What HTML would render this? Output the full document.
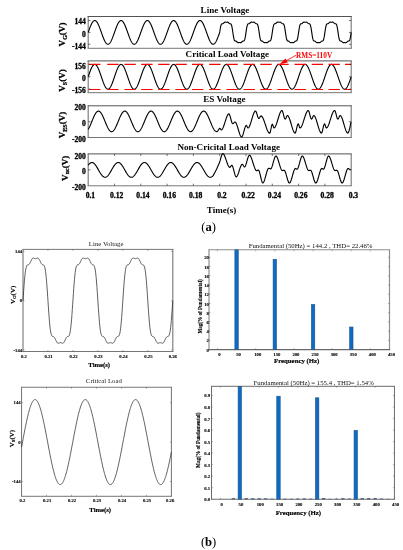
<!DOCTYPE html>
<html><head><meta charset="utf-8"><title>Figure</title>
<style>
html,body{margin:0;padding:0;background:#fff;}
body{width:403px;height:550px;overflow:hidden;font-family:'Liberation Serif', serif;}
svg{display:block;font-family:"Liberation Serif",serif;}
</style></head><body>
<svg width="403" height="550" viewBox="0 0 403 550">
<rect width="403" height="550" fill="#fff"/>
<text x="225.00" y="13.10" font-size="9.1" font-weight="bold" text-anchor="middle" fill="#000">Line Voltage</text>
<text x="227.30" y="57.30" font-size="9.1" font-weight="bold" text-anchor="middle" fill="#000">Critical Load Voltage</text>
<text x="224.40" y="101.80" font-size="9.1" font-weight="bold" text-anchor="middle" fill="#000">ES Voltage</text>
<text x="228.70" y="150.40" font-size="9.1" font-weight="bold" text-anchor="middle" fill="#000">Non-Cricital Load Voltage</text>
<path d="M88.20 16.50V48.30M351.20 16.50V48.30" stroke="#808080" stroke-width="1.2" fill="none"/>
<path d="M87.60 16.50H351.80" stroke="#4a4a4a" stroke-width="0.95" fill="none"/>
<path d="M87.60 48.30H351.80" stroke="#707070" stroke-width="0.95" fill="none"/>
<path d="M88.20 60.90V92.70M351.20 60.90V92.70" stroke="#808080" stroke-width="1.2" fill="none"/>
<path d="M87.60 60.90H351.80" stroke="#4a4a4a" stroke-width="0.95" fill="none"/>
<path d="M87.60 92.70H351.80" stroke="#707070" stroke-width="0.95" fill="none"/>
<path d="M88.20 105.80V137.50M351.20 105.80V137.50" stroke="#808080" stroke-width="1.2" fill="none"/>
<path d="M87.60 105.80H351.80" stroke="#4a4a4a" stroke-width="0.95" fill="none"/>
<path d="M87.60 137.50H351.80" stroke="#707070" stroke-width="0.95" fill="none"/>
<path d="M88.20 153.90V185.80M351.20 153.90V185.80" stroke="#808080" stroke-width="1.2" fill="none"/>
<path d="M87.60 153.90H351.80" stroke="#4a4a4a" stroke-width="0.95" fill="none"/>
<path d="M87.60 185.80H351.80" stroke="#707070" stroke-width="0.95" fill="none"/>
<path d="M114.50 185.80v-2.1M114.50 153.90v2.1" stroke="#3a3a3a" stroke-width="0.7"/>
<path d="M140.80 185.80v-2.1M140.80 153.90v2.1" stroke="#3a3a3a" stroke-width="0.7"/>
<path d="M167.10 185.80v-2.1M167.10 153.90v2.1" stroke="#3a3a3a" stroke-width="0.7"/>
<path d="M193.40 185.80v-2.1M193.40 153.90v2.1" stroke="#3a3a3a" stroke-width="0.7"/>
<path d="M219.70 185.80v-2.1M219.70 153.90v2.1" stroke="#3a3a3a" stroke-width="0.7"/>
<path d="M246.00 185.80v-2.1M246.00 153.90v2.1" stroke="#3a3a3a" stroke-width="0.7"/>
<path d="M272.30 185.80v-2.1M272.30 153.90v2.1" stroke="#3a3a3a" stroke-width="0.7"/>
<path d="M298.60 185.80v-2.1M298.60 153.90v2.1" stroke="#3a3a3a" stroke-width="0.7"/>
<path d="M324.90 185.80v-2.1M324.90 153.90v2.1" stroke="#3a3a3a" stroke-width="0.7"/>
<polyline points="88.20,32.40 88.49,31.57 88.79,30.75 89.08,29.93 89.37,29.13 89.66,28.34 89.96,27.57 90.25,26.82 90.54,26.11 90.83,25.42 91.13,24.77 91.42,24.15 91.71,23.58 92.00,23.04 92.30,22.56 92.59,22.12 92.88,21.73 93.17,21.39 93.47,21.11 93.76,20.88 94.05,20.71 94.34,20.60 94.64,20.54 94.93,20.54 95.22,20.60 95.51,20.72 95.81,20.89 96.10,21.13 96.39,21.41 96.68,21.75 96.98,22.14 97.27,22.58 97.56,23.07 97.85,23.60 98.15,24.18 98.44,24.80 98.73,25.45 99.02,26.14 99.32,26.86 99.61,27.61 99.90,28.38 100.19,29.17 100.49,29.97 100.78,30.79 101.07,31.61 101.36,32.44 101.66,33.27 101.95,34.09 102.24,34.91 102.53,35.71 102.83,36.50 103.12,37.27 103.41,38.01 103.71,38.73 104.00,39.41 104.29,40.06 104.58,40.68 104.88,41.25 105.17,41.78 105.46,42.27 105.75,42.70 106.05,43.09 106.34,43.42 106.63,43.70 106.92,43.92 107.22,44.09 107.51,44.20 107.80,44.26 108.09,44.25 108.39,44.19 108.68,44.07 108.97,43.89 109.26,43.66 109.56,43.37 109.85,43.03 110.14,42.64 110.43,42.20 110.73,41.70 111.02,41.17 111.31,40.59 111.60,39.97 111.90,39.31 112.19,38.62 112.48,37.90 112.77,37.15 113.07,36.38 113.36,35.59 113.65,34.79 113.94,33.97 114.24,33.15 114.53,32.32 114.82,31.49 115.11,30.67 115.41,29.85 115.70,29.05 115.99,28.26 116.28,27.49 116.58,26.75 116.87,26.04 117.16,25.35 117.45,24.70 117.75,24.09 118.04,23.52 118.33,22.99 118.62,22.51 118.92,22.08 119.21,21.69 119.50,21.36 119.80,21.09 120.09,20.87 120.38,20.70 120.67,20.59 120.97,20.54 121.26,20.55 121.55,20.61 121.84,20.74 122.14,20.92 122.43,21.15 122.72,21.44 123.01,21.79 123.31,22.18 123.60,22.63 123.89,23.12 124.18,23.66 124.48,24.24 124.77,24.86 125.06,25.52 125.35,26.21 125.65,26.93 125.94,27.68 126.23,28.46 126.52,29.25 126.82,30.05 127.11,30.87 127.40,31.70 127.69,32.52 127.99,33.35 128.28,34.18 128.57,34.99 128.86,35.79 129.16,36.58 129.45,37.34 129.74,38.08 130.03,38.80 130.33,39.48 130.62,40.13 130.91,40.74 131.20,41.31 131.50,41.83 131.79,42.31 132.08,42.74 132.37,43.12 132.67,43.45 132.96,43.73 133.25,43.94 133.54,44.11 133.84,44.21 134.13,44.26 134.42,44.25 134.72,44.18 135.01,44.06 135.30,43.87 135.59,43.64 135.89,43.34 136.18,43.00 136.47,42.60 136.76,42.15 137.06,41.65 137.35,41.11 137.64,40.53 137.93,39.90 138.23,39.24 138.52,38.55 138.81,37.83 139.10,37.08 139.40,36.31 139.69,35.51 139.98,34.71 140.27,33.89 140.57,33.06 140.86,32.23 141.15,31.41 141.44,30.58 141.74,29.77 142.03,28.97 142.32,28.18 142.61,27.42 142.91,26.68 143.20,25.97 143.49,25.29 143.78,24.64 144.08,24.03 144.37,23.47 144.66,22.94 144.95,22.47 145.25,22.04 145.54,21.66 145.83,21.33 146.12,21.06 146.42,20.85 146.71,20.69 147.00,20.58 147.29,20.54 147.59,20.55 147.88,20.62 148.17,20.75 148.46,20.94 148.76,21.18 149.05,21.47 149.34,21.82 149.63,22.22 149.93,22.67 150.22,23.17 150.51,23.72 150.81,24.30 151.10,24.93 151.39,25.59 151.68,26.28 151.98,27.01 152.27,27.76 152.56,28.53 152.85,29.33 153.15,30.13 153.44,30.95 153.73,31.78 154.02,32.61 154.32,33.44 154.61,34.26 154.90,35.07 155.19,35.87 155.49,36.66 155.78,37.42 156.07,38.16 156.36,38.87 156.66,39.55 156.95,40.19 157.24,40.80 157.53,41.36 157.83,41.88 158.12,42.36 158.41,42.78 158.70,43.16 159.00,43.48 159.29,43.75 159.58,43.96 159.87,44.12 160.17,44.22 160.46,44.26 160.75,44.25 161.04,44.17 161.34,44.04 161.63,43.85 161.92,43.61 162.21,43.31 162.51,42.96 162.80,42.55 163.09,42.10 163.38,41.60 163.68,41.06 163.97,40.47 164.26,39.84 164.55,39.18 164.85,38.48 165.14,37.75 165.43,37.00 165.73,36.23 166.02,35.43 166.31,34.63 166.60,33.81 166.90,32.98 167.19,32.15 167.48,31.32 167.77,30.50 168.07,29.69 168.36,28.89 168.65,28.11 168.94,27.34 169.24,26.61 169.53,25.90 169.82,25.22 170.11,24.58 170.41,23.97 170.70,23.41 170.99,22.89 171.28,22.42 171.58,22.00 171.87,21.62 172.16,21.30 172.45,21.04 172.75,20.83 173.04,20.67 173.33,20.58 173.62,20.54 173.92,20.56 174.21,20.63 174.50,20.77 174.79,20.96 175.09,21.20 175.38,21.51 175.67,21.86 175.96,22.27 176.26,22.72 176.55,23.23 176.84,23.77 177.13,24.36 177.43,24.99 177.72,25.66 178.01,26.36 178.30,27.08 178.60,27.84 178.89,28.61 179.18,29.41 179.47,30.22 179.77,31.03 180.06,31.86 180.35,32.69 180.64,33.52 180.94,34.34 181.23,35.15 181.52,35.95 181.82,36.73 182.11,37.49 182.40,38.23 182.69,38.94 182.99,39.61 183.28,40.25 183.57,40.85 183.86,41.41 184.16,41.93 184.45,42.40 184.74,42.82 185.03,43.19 185.33,43.51 185.62,43.77 185.91,43.98 186.20,44.13 186.50,44.23 186.79,44.26 187.08,44.24 187.37,44.16 187.67,44.02 187.96,43.83 188.25,43.58 188.54,43.28 188.84,42.92 189.13,42.51 189.42,42.05 189.71,41.55 190.01,41.00 190.30,40.41 190.59,39.78 190.88,39.11 191.18,38.41 191.47,37.68 191.76,36.93 192.05,36.15 192.35,35.35 192.64,34.54 192.93,33.72 193.22,32.90 193.52,32.07 193.81,31.24 194.10,30.42 194.39,29.61 194.69,28.81 194.98,28.03 195.27,27.27 195.56,26.53 195.86,25.83 196.15,25.15 196.44,24.52 196.74,23.92 197.03,23.36 197.32,22.84 197.61,22.38 197.91,21.96 198.20,21.59 198.49,21.28 198.78,21.01 199.08,20.81 199.37,20.66 199.66,20.57 199.95,20.54 200.25,20.56 200.54,20.64 200.83,20.78 201.12,20.98 201.42,21.23 201.71,21.54 202.00,21.90 202.29,22.31 202.59,22.77 202.88,23.28 203.17,23.83 203.46,24.42 203.76,25.06 204.05,25.73 204.34,26.43 204.63,27.16 204.93,27.91 205.22,28.69 205.51,29.49 205.80,30.30 206.10,31.12 206.39,31.94 206.68,32.77 206.97,33.60 207.27,34.42 207.56,35.23 207.85,36.03 208.14,36.81 208.44,37.57 208.73,38.30 209.02,39.01 209.31,39.68 209.61,40.31 209.90,40.91 210.19,41.47 210.48,41.98 210.78,42.45 211.07,42.86 211.36,43.23 211.65,43.54 211.95,43.80 212.24,44.00 212.53,44.14 212.83,44.23 213.12,44.26 213.41,44.24 213.70,44.15 214.00,44.01 214.29,43.81 214.58,43.55 214.87,43.24 215.17,42.88 215.46,42.47 215.75,42.00 216.04,41.50 216.34,40.94 216.63,40.35 216.92,39.71 217.21,39.04 217.51,38.34 217.80,37.61 218.09,36.85 218.38,36.07 218.68,35.27 218.97,34.46 219.26,33.64 219.55,32.81 219.85,31.40 220.14,29.46 220.43,27.73 220.72,26.29 221.02,25.21 221.31,24.47 221.60,24.04 221.89,23.84 222.19,23.77 222.48,23.74 222.77,23.68 223.06,23.54 223.36,23.33 223.65,23.05 223.94,22.75 224.23,22.48 224.53,22.28 224.82,22.16 225.11,22.12 225.40,22.14 225.70,22.20 225.99,22.25 226.28,22.27 226.57,22.25 226.87,22.20 227.16,22.14 227.45,22.12 227.75,22.16 228.04,22.28 228.33,22.49 228.62,22.77 228.92,23.06 229.21,23.34 229.50,23.55 229.79,23.68 230.09,23.74 230.38,23.77 230.67,23.85 230.96,24.06 231.26,24.50 231.55,25.25 231.84,26.36 232.13,27.81 232.43,29.56 232.72,31.50 233.01,33.50 233.30,35.43 233.60,37.15 233.89,38.57 234.18,39.64 234.47,40.36 234.77,40.77 235.06,40.97 235.35,41.03 235.64,41.06 235.94,41.12 236.23,41.26 236.52,41.49 236.81,41.77 237.11,42.06 237.40,42.33 237.69,42.53 237.98,42.65 238.28,42.68 238.57,42.65 238.86,42.60 239.15,42.55 239.45,42.53 239.74,42.56 240.03,42.61 240.32,42.66 240.62,42.68 240.91,42.64 241.20,42.51 241.49,42.29 241.79,42.02 242.08,41.72 242.37,41.45 242.66,41.24 242.96,41.11 243.25,41.06 243.54,41.03 243.84,40.95 244.13,40.73 244.42,40.27 244.71,39.50 245.01,38.38 245.30,36.91 245.59,35.15 245.88,33.20 246.18,31.20 246.47,29.28 246.76,27.57 247.05,26.17 247.35,25.12 247.64,24.41 247.93,24.01 248.22,23.83 248.52,23.77 248.81,23.74 249.10,23.67 249.39,23.53 249.69,23.30 249.98,23.02 250.27,22.72 250.56,22.46 250.86,22.26 251.15,22.15 251.44,22.12 251.73,22.15 252.03,22.20 252.32,22.25 252.61,22.27 252.90,22.24 253.20,22.19 253.49,22.14 253.78,22.12 254.07,22.17 254.37,22.30 254.66,22.52 254.95,22.80 255.24,23.09 255.54,23.36 255.83,23.57 256.12,23.69 256.41,23.75 256.71,23.78 257.00,23.86 257.29,24.09 257.58,24.56 257.88,25.35 258.17,26.49 258.46,27.97 258.76,29.74 259.05,31.70 259.34,33.70 259.63,35.61 259.93,37.31 260.22,38.69 260.51,39.73 260.80,40.41 261.10,40.80 261.39,40.98 261.68,41.03 261.97,41.06 262.27,41.14 262.56,41.28 262.85,41.51 263.14,41.79 263.44,42.09 263.73,42.35 264.02,42.55 264.31,42.65 264.61,42.68 264.90,42.65 265.19,42.59 265.48,42.55 265.78,42.53 266.07,42.56 266.36,42.61 266.65,42.67 266.95,42.68 267.24,42.63 267.53,42.49 267.82,42.27 268.12,41.99 268.41,41.69 268.70,41.42 268.99,41.22 269.29,41.10 269.58,41.05 269.87,41.02 270.16,40.93 270.46,40.69 270.75,40.21 271.04,39.41 271.33,38.25 271.63,36.74 271.92,34.96 272.21,33.00 272.50,31.00 272.80,29.10 273.09,27.42 273.38,26.05 273.67,25.03 273.97,24.36 274.26,23.99 274.55,23.82 274.85,23.76 275.14,23.73 275.43,23.66 275.72,23.51 276.02,23.28 276.31,22.99 276.60,22.70 276.89,22.44 277.19,22.25 277.48,22.14 277.77,22.12 278.06,22.15 278.36,22.21 278.65,22.25 278.94,22.27 279.23,22.24 279.53,22.18 279.82,22.13 280.11,22.12 280.40,22.18 280.70,22.32 280.99,22.55 281.28,22.83 281.57,23.12 281.87,23.39 282.16,23.59 282.45,23.70 282.74,23.75 283.04,23.78 283.33,23.87 283.62,24.12 283.91,24.62 284.21,25.44 284.50,26.62 284.79,28.14 285.08,29.93 285.38,31.90 285.67,33.90 285.96,35.79 286.25,37.46 286.55,38.81 286.84,39.81 287.13,40.46 287.42,40.83 287.72,40.99 288.01,41.04 288.30,41.07 288.59,41.15 288.89,41.30 289.18,41.54 289.47,41.82 289.77,42.12 290.06,42.38 290.35,42.56 290.64,42.66 290.94,42.68 291.23,42.64 291.52,42.59 291.81,42.54 292.11,42.53 292.40,42.56 292.69,42.62 292.98,42.67 293.28,42.68 293.57,42.62 293.86,42.47 294.15,42.24 294.45,41.96 294.74,41.66 295.03,41.40 295.32,41.21 295.62,41.10 295.91,41.05 296.20,41.02 296.49,40.92 296.79,40.66 297.08,40.14 297.37,39.31 297.66,38.11 297.96,36.58 298.25,34.77 298.54,32.80 298.83,30.80 299.13,28.92 299.42,27.26 299.71,25.93 300.00,24.95 300.30,24.31 300.59,23.96 300.88,23.81 301.17,23.76 301.47,23.73 301.76,23.65 302.05,23.49 302.34,23.25 302.64,22.96 302.93,22.67 303.22,22.41 303.51,22.23 303.81,22.14 304.10,22.12 304.39,22.16 304.68,22.21 304.98,22.26 305.27,22.26 305.56,22.23 305.86,22.18 306.15,22.13 306.44,22.12 306.73,22.19 307.03,22.34 307.32,22.57 307.61,22.86 307.90,23.15 308.20,23.41 308.49,23.60 308.78,23.71 309.07,23.75 309.37,23.79 309.66,23.89 309.95,24.16 310.24,24.69 310.54,25.55 310.83,26.76 311.12,28.31 311.41,30.12 311.71,32.10 312.00,34.09 312.29,35.97 312.58,37.61 312.88,38.93 313.17,39.89 313.46,40.51 313.75,40.85 314.05,40.99 314.34,41.04 314.63,41.07 314.92,41.16 315.22,41.32 315.51,41.57 315.80,41.85 316.09,42.15 316.39,42.40 316.68,42.58 316.97,42.67 317.26,42.68 317.56,42.64 317.85,42.58 318.14,42.54 318.43,42.54 318.73,42.57 319.02,42.63 319.31,42.67 319.60,42.68 319.90,42.61 320.19,42.45 320.48,42.22 320.78,41.93 321.07,41.63 321.36,41.38 321.65,41.19 321.95,41.09 322.24,41.05 322.53,41.01 322.82,40.90 323.12,40.62 323.41,40.08 323.70,39.20 323.99,37.97 324.29,36.41 324.58,34.58 324.87,32.60 325.16,30.61 325.46,28.74 325.75,27.12 326.04,25.81 326.33,24.87 326.63,24.27 326.92,23.94 327.21,23.80 327.50,23.76 327.80,23.72 328.09,23.64 328.38,23.47 328.67,23.22 328.97,22.93 329.26,22.64 329.55,22.39 329.84,22.22 330.14,22.13 330.43,22.12 330.72,22.16 331.01,22.22 331.31,22.26 331.60,22.26 331.89,22.23 332.18,22.17 332.48,22.13 332.77,22.13 333.06,22.20 333.35,22.36 333.65,22.60 333.94,22.89 334.23,23.18 334.52,23.43 334.82,23.62 335.11,23.72 335.40,23.75 335.69,23.79 335.99,23.91 336.28,24.20 336.57,24.76 336.87,25.65 337.16,26.90 337.45,28.48 337.74,30.32 338.04,32.30 338.33,34.29 338.62,36.15 338.91,37.76 339.21,39.04 339.50,39.97 339.79,40.56 340.08,40.87 340.38,41.00 340.67,41.04 340.96,41.08 341.25,41.17 341.55,41.34 341.84,41.59 342.13,41.88 342.42,42.17 342.72,42.42 343.01,42.59 343.30,42.67 343.59,42.68 343.89,42.63 344.18,42.58 344.47,42.54 344.76,42.54 345.06,42.57 345.35,42.63 345.64,42.68 345.93,42.67 346.23,42.59 346.52,42.43 346.81,42.19 347.10,41.90 347.40,41.61 347.69,41.35 347.98,41.18 348.27,41.08 348.57,41.04 348.86,41.01 349.15,40.88 349.44,40.58 349.74,40.00 350.03,39.10 350.32,37.83 350.61,36.24 350.91,34.39 351.20,32.40" fill="none" stroke="#000" stroke-width="1.12" stroke-linejoin="round"/>
<polyline points="88.20,76.80 88.49,75.93 88.79,75.07 89.08,74.22 89.37,73.38 89.66,72.55 89.96,71.75 90.25,70.97 90.54,70.22 90.83,69.50 91.13,68.82 91.42,68.18 91.71,67.58 92.00,67.02 92.30,66.51 92.59,66.05 92.88,65.65 93.17,65.29 93.47,65.00 93.76,64.76 94.05,64.58 94.34,64.46 94.64,64.40 94.93,64.41 95.22,64.47 95.51,64.59 95.81,64.77 96.10,65.01 96.39,65.31 96.68,65.67 96.98,66.07 97.27,66.54 97.56,67.05 97.85,67.60 98.15,68.21 98.44,68.85 98.73,69.54 99.02,70.26 99.32,71.01 99.61,71.79 99.90,72.59 100.19,73.42 100.49,74.26 100.78,75.11 101.07,75.98 101.36,76.84 101.66,77.71 101.95,78.57 102.24,79.42 102.53,80.26 102.83,81.09 103.12,81.89 103.41,82.67 103.71,83.42 104.00,84.13 104.29,84.81 104.58,85.45 104.88,86.05 105.17,86.61 105.46,87.11 105.75,87.57 106.05,87.97 106.34,88.32 106.63,88.61 106.92,88.85 107.22,89.02 107.51,89.14 107.80,89.20 108.09,89.19 108.39,89.13 108.68,89.00 108.97,88.82 109.26,88.57 109.56,88.27 109.85,87.92 110.14,87.50 110.43,87.04 110.73,86.53 111.02,85.97 111.31,85.36 111.60,84.71 111.90,84.03 112.19,83.30 112.48,82.55 112.77,81.77 113.07,80.96 113.36,80.14 113.65,79.30 113.94,78.44 114.24,77.58 114.53,76.71 114.82,75.85 115.11,74.99 115.41,74.13 115.70,73.29 115.99,72.47 116.28,71.67 116.58,70.90 116.87,70.15 117.16,69.43 117.45,68.75 117.75,68.12 118.04,67.52 118.33,66.97 118.62,66.46 118.92,66.01 119.21,65.61 119.50,65.26 119.80,64.97 120.09,64.74 120.38,64.57 120.67,64.46 120.97,64.40 121.26,64.41 121.55,64.48 121.84,64.61 122.14,64.79 122.43,65.04 122.72,65.34 123.01,65.70 123.31,66.12 123.60,66.58 123.89,67.10 124.18,67.66 124.48,68.27 124.77,68.92 125.06,69.61 125.35,70.33 125.65,71.09 125.94,71.87 126.23,72.68 126.52,73.50 126.82,74.35 127.11,75.20 127.40,76.06 127.69,76.93 127.99,77.80 128.28,78.66 128.57,79.51 128.86,80.35 129.16,81.17 129.45,81.97 129.74,82.74 130.03,83.49 130.33,84.20 130.62,84.88 130.91,85.52 131.20,86.11 131.50,86.66 131.79,87.16 132.08,87.61 132.37,88.01 132.67,88.35 132.96,88.64 133.25,88.87 133.54,89.04 133.84,89.15 134.13,89.20 134.42,89.19 134.72,89.12 135.01,88.99 135.30,88.80 135.59,88.55 135.89,88.24 136.18,87.88 136.47,87.46 136.76,86.99 137.06,86.47 137.35,85.91 137.64,85.30 137.93,84.65 138.23,83.96 138.52,83.23 138.81,82.47 139.10,81.69 139.40,80.88 139.69,80.06 139.98,79.21 140.27,78.36 140.57,77.49 140.86,76.63 141.15,75.76 141.44,74.90 141.74,74.05 142.03,73.21 142.32,72.39 142.61,71.59 142.91,70.82 143.20,70.08 143.49,69.36 143.78,68.69 144.08,68.05 144.37,67.46 144.66,66.91 144.95,66.41 145.25,65.97 145.54,65.57 145.83,65.23 146.12,64.95 146.42,64.72 146.71,64.55 147.00,64.45 147.29,64.40 147.59,64.41 147.88,64.49 148.17,64.62 148.46,64.82 148.76,65.07 149.05,65.38 149.34,65.74 149.63,66.16 149.93,66.63 150.22,67.15 150.51,67.72 150.81,68.33 151.10,68.99 151.39,69.68 151.68,70.41 151.98,71.16 152.27,71.95 152.56,72.76 152.85,73.59 153.15,74.43 153.44,75.29 153.73,76.15 154.02,77.02 154.32,77.88 154.61,78.74 154.90,79.59 155.19,80.43 155.49,81.25 155.78,82.05 156.07,82.82 156.36,83.56 156.66,84.27 156.95,84.94 157.24,85.58 157.53,86.17 157.83,86.71 158.12,87.21 158.41,87.65 158.70,88.05 159.00,88.38 159.29,88.67 159.58,88.89 159.87,89.05 160.17,89.16 160.46,89.20 160.75,89.18 161.04,89.11 161.34,88.97 161.63,88.77 161.92,88.52 162.21,88.21 162.51,87.84 162.80,87.42 163.09,86.94 163.38,86.42 163.68,85.85 163.97,85.23 164.26,84.58 164.55,83.88 164.85,83.16 165.14,82.40 165.43,81.61 165.73,80.80 166.02,79.97 166.31,79.13 166.60,78.27 166.90,77.41 167.19,76.54 167.48,75.67 167.77,74.81 168.07,73.96 168.36,73.13 168.65,72.31 168.94,71.51 169.24,70.74 169.53,70.00 169.82,69.29 170.11,68.62 170.41,67.99 170.70,67.40 170.99,66.86 171.28,66.37 171.58,65.92 171.87,65.54 172.16,65.20 172.45,64.92 172.75,64.70 173.04,64.54 173.33,64.44 173.62,64.40 173.92,64.42 174.21,64.50 174.50,64.64 174.79,64.84 175.09,65.10 175.38,65.41 175.67,65.78 175.96,66.21 176.26,66.68 176.55,67.21 176.84,67.78 177.13,68.40 177.43,69.06 177.72,69.75 178.01,70.48 178.30,71.24 178.60,72.03 178.89,72.84 179.18,73.67 179.47,74.52 179.77,75.37 180.06,76.24 180.35,77.10 180.64,77.97 180.94,78.83 181.23,79.68 181.52,80.51 181.82,81.33 182.11,82.13 182.40,82.89 182.69,83.63 182.99,84.34 183.28,85.01 183.57,85.64 183.86,86.22 184.16,86.76 184.45,87.26 184.74,87.70 185.03,88.08 185.33,88.41 185.62,88.69 185.91,88.91 186.20,89.07 186.50,89.16 186.79,89.20 187.08,89.18 187.37,89.10 187.67,88.95 187.96,88.75 188.25,88.49 188.54,88.17 188.84,87.80 189.13,87.37 189.42,86.89 189.71,86.36 190.01,85.79 190.30,85.17 190.59,84.51 190.88,83.81 191.18,83.08 191.47,82.32 191.76,81.53 192.05,80.72 192.35,79.89 192.64,79.04 192.93,78.18 193.22,77.32 193.52,76.45 193.81,75.59 194.10,74.73 194.39,73.88 194.69,73.05 194.98,72.23 195.27,71.44 195.56,70.67 195.86,69.93 196.15,69.23 196.44,68.56 196.74,67.93 197.03,67.35 197.32,66.81 197.61,66.32 197.91,65.88 198.20,65.50 198.49,65.17 198.78,64.90 199.08,64.68 199.37,64.53 199.66,64.43 199.95,64.40 200.25,64.42 200.54,64.51 200.83,64.66 201.12,64.86 201.42,65.13 201.71,65.45 202.00,65.82 202.29,66.25 202.59,66.73 202.88,67.26 203.17,67.84 203.46,68.46 203.76,69.12 204.05,69.82 204.34,70.56 204.63,71.32 204.93,72.11 205.22,72.92 205.51,73.75 205.80,74.60 206.10,75.46 206.39,76.32 206.68,77.19 206.97,78.05 207.27,78.91 207.56,79.76 207.85,80.60 208.14,81.41 208.44,82.20 208.73,82.97 209.02,83.71 209.31,84.41 209.61,85.07 209.90,85.70 210.19,86.28 210.48,86.82 210.78,87.30 211.07,87.74 211.36,88.12 211.65,88.44 211.95,88.71 212.24,88.93 212.53,89.08 212.83,89.17 213.12,89.20 213.41,89.17 213.70,89.08 214.00,88.93 214.29,88.73 214.58,88.46 214.87,88.14 215.17,87.76 215.46,87.32 215.75,86.84 216.04,86.31 216.34,85.73 216.63,85.11 216.92,84.44 217.21,83.74 217.51,83.01 217.80,82.24 218.09,81.45 218.38,80.64 218.68,79.80 218.97,78.96 219.26,78.10 219.55,77.23 219.85,76.37 220.14,75.50 220.43,74.64 220.72,73.80 221.02,72.96 221.31,72.15 221.60,71.36 221.89,70.59 222.19,69.86 222.48,69.16 222.77,68.49 223.06,67.87 223.36,67.29 223.65,66.76 223.94,66.28 224.23,65.84 224.53,65.46 224.82,65.14 225.11,64.87 225.40,64.67 225.70,64.52 225.99,64.43 226.28,64.40 226.57,64.43 226.87,64.52 227.16,64.67 227.45,64.89 227.75,65.16 228.04,65.48 228.33,65.86 228.62,66.30 228.92,66.78 229.21,67.32 229.50,67.90 229.79,68.53 230.09,69.19 230.38,69.89 230.67,70.63 230.96,71.40 231.26,72.19 231.55,73.00 231.84,73.84 232.13,74.69 232.43,75.55 232.72,76.41 233.01,77.28 233.30,78.14 233.60,79.00 233.89,79.85 234.18,80.68 234.47,81.49 234.77,82.28 235.06,83.04 235.35,83.78 235.64,84.48 235.94,85.14 236.23,85.76 236.52,86.34 236.81,86.87 237.11,87.35 237.40,87.78 237.69,88.15 237.98,88.47 238.28,88.74 238.57,88.94 238.86,89.09 239.15,89.18 239.45,89.20 239.74,89.17 240.03,89.07 240.32,88.92 240.62,88.70 240.91,88.43 241.20,88.10 241.49,87.72 241.79,87.28 242.08,86.79 242.37,86.25 242.66,85.67 242.96,85.04 243.25,84.37 243.54,83.67 243.84,82.93 244.13,82.16 244.42,81.37 244.71,80.55 245.01,79.72 245.30,78.87 245.59,78.01 245.88,77.15 246.18,76.28 246.47,75.42 246.76,74.56 247.05,73.71 247.35,72.88 247.64,72.07 247.93,71.28 248.22,70.52 248.52,69.79 248.81,69.09 249.10,68.43 249.39,67.81 249.69,67.24 249.98,66.71 250.27,66.23 250.56,65.80 250.86,65.43 251.15,65.11 251.44,64.85 251.73,64.65 252.03,64.50 252.32,64.42 252.61,64.40 252.90,64.44 253.20,64.53 253.49,64.69 253.78,64.91 254.07,65.19 254.37,65.52 254.66,65.90 254.95,66.34 255.24,66.84 255.54,67.38 255.83,67.96 256.12,68.59 256.41,69.26 256.71,69.97 257.00,70.71 257.29,71.47 257.58,72.27 257.88,73.09 258.17,73.92 258.46,74.77 258.76,75.63 259.05,76.50 259.34,77.36 259.63,78.23 259.93,79.08 260.22,79.93 260.51,80.76 260.80,81.57 261.10,82.36 261.39,83.12 261.68,83.85 261.97,84.54 262.27,85.20 262.56,85.82 262.85,86.39 263.14,86.92 263.44,87.39 263.73,87.82 264.02,88.19 264.31,88.50 264.61,88.76 264.90,88.96 265.19,89.10 265.48,89.18 265.78,89.20 266.07,89.16 266.36,89.06 266.65,88.90 266.95,88.68 267.24,88.40 267.53,88.06 267.82,87.68 268.12,87.23 268.41,86.74 268.70,86.20 268.99,85.61 269.29,84.98 269.58,84.31 269.87,83.60 270.16,82.86 270.46,82.09 270.75,81.29 271.04,80.47 271.33,79.64 271.63,78.79 271.92,77.93 272.21,77.06 272.50,76.19 272.80,75.33 273.09,74.47 273.38,73.63 273.67,72.80 273.97,71.99 274.26,71.20 274.55,70.44 274.85,69.72 275.14,69.02 275.43,68.37 275.72,67.75 276.02,67.18 276.31,66.66 276.60,66.18 276.89,65.76 277.19,65.39 277.48,65.08 277.77,64.83 278.06,64.63 278.36,64.49 278.65,64.42 278.94,64.40 279.23,64.44 279.53,64.55 279.82,64.71 280.11,64.93 280.40,65.22 280.70,65.55 280.99,65.95 281.28,66.39 281.57,66.89 281.87,67.43 282.16,68.02 282.45,68.66 282.74,69.33 283.04,70.04 283.33,70.78 283.62,71.55 283.91,72.35 284.21,73.17 284.50,74.01 284.79,74.86 285.08,75.72 285.38,76.58 285.67,77.45 285.96,78.31 286.25,79.17 286.55,80.01 286.84,80.84 287.13,81.65 287.42,82.44 287.72,83.19 288.01,83.92 288.30,84.61 288.59,85.27 288.89,85.88 289.18,86.45 289.47,86.97 289.77,87.44 290.06,87.86 290.35,88.22 290.64,88.53 290.94,88.78 291.23,88.98 291.52,89.11 291.81,89.19 292.11,89.20 292.40,89.15 292.69,89.05 292.98,88.88 293.28,88.65 293.57,88.37 293.86,88.03 294.15,87.63 294.45,87.19 294.74,86.69 295.03,86.14 295.32,85.55 295.62,84.91 295.91,84.24 296.20,83.52 296.49,82.78 296.79,82.01 297.08,81.21 297.37,80.39 297.66,79.55 297.96,78.70 298.25,77.84 298.54,76.97 298.83,76.11 299.13,75.24 299.42,74.39 299.71,73.54 300.00,72.72 300.30,71.91 300.59,71.13 300.88,70.37 301.17,69.64 301.47,68.95 301.76,68.30 302.05,67.69 302.34,67.13 302.64,66.61 302.93,66.14 303.22,65.72 303.51,65.36 303.81,65.05 304.10,64.80 304.39,64.61 304.68,64.48 304.98,64.41 305.27,64.40 305.56,64.45 305.86,64.56 306.15,64.73 306.44,64.96 306.73,65.25 307.03,65.59 307.32,65.99 307.61,66.44 307.90,66.94 308.20,67.49 308.49,68.08 308.78,68.72 309.07,69.40 309.37,70.11 309.66,70.86 309.95,71.63 310.24,72.43 310.54,73.25 310.83,74.09 311.12,74.94 311.41,75.80 311.71,76.67 312.00,77.54 312.29,78.40 312.58,79.25 312.88,80.10 313.17,80.92 313.46,81.73 313.75,82.51 314.05,83.27 314.34,83.99 314.63,84.68 314.92,85.33 315.22,85.94 315.51,86.50 315.80,87.02 316.09,87.48 316.39,87.90 316.68,88.26 316.97,88.56 317.26,88.81 317.56,88.99 317.85,89.12 318.14,89.19 318.43,89.20 318.73,89.14 319.02,89.03 319.31,88.86 319.60,88.63 319.90,88.34 320.19,87.99 320.48,87.59 320.78,87.14 321.07,86.63 321.36,86.08 321.65,85.48 321.95,84.85 322.24,84.17 322.53,83.45 322.82,82.70 323.12,81.93 323.41,81.13 323.70,80.31 323.99,79.47 324.29,78.61 324.58,77.75 324.87,76.89 325.16,76.02 325.46,75.16 325.75,74.30 326.04,73.46 326.33,72.64 326.63,71.83 326.92,71.05 327.21,70.30 327.50,69.57 327.80,68.89 328.09,68.24 328.38,67.63 328.67,67.07 328.97,66.56 329.26,66.10 329.55,65.68 329.84,65.33 330.14,65.03 330.43,64.78 330.72,64.60 331.01,64.47 331.31,64.41 331.60,64.40 331.89,64.46 332.18,64.58 332.48,64.75 332.77,64.99 333.06,65.28 333.35,65.63 333.65,66.03 333.94,66.49 334.23,66.99 334.52,67.55 334.82,68.15 335.11,68.79 335.40,69.47 335.69,70.18 335.99,70.93 336.28,71.71 336.57,72.51 336.87,73.34 337.16,74.18 337.45,75.03 337.74,75.89 338.04,76.76 338.33,77.62 338.62,78.49 338.91,79.34 339.21,80.18 339.50,81.01 339.79,81.81 340.08,82.59 340.38,83.34 340.67,84.06 340.96,84.75 341.25,85.39 341.55,86.00 341.84,86.55 342.13,87.06 342.42,87.53 342.72,87.93 343.01,88.29 343.30,88.59 343.59,88.83 343.89,89.01 344.18,89.13 344.47,89.19 344.76,89.20 345.06,89.14 345.35,89.02 345.64,88.84 345.93,88.60 346.23,88.31 346.52,87.95 346.81,87.55 347.10,87.09 347.40,86.58 347.69,86.02 347.98,85.42 348.27,84.78 348.57,84.10 348.86,83.38 349.15,82.63 349.44,81.85 349.74,81.05 350.03,80.22 350.32,79.38 350.61,78.53 350.91,77.67 351.20,76.80" fill="none" stroke="#000" stroke-width="1.12" stroke-linejoin="round"/>
<path d="M89.0 64.4H100.4M107.2 64.4H118.6M124.4 64.4H135.8M141.2 64.4H152.6M158.2 64.4H169.6M175.4 64.4H186.8M191.9 64.4H203.3M209.2 64.4H220.6M226.4 64.4H237.8M243.5 64.4H254.9M260.3 64.4H271.7M277.3 64.4H288.7M294.5 64.4H305.9M311.7 64.4H323.1M328.5 64.4H339.9M345.0 64.4H351.2" stroke="#f00" stroke-width="1.2" fill="none"/>
<path d="M89.0 89.5H100.4M107.2 89.5H118.6M124.4 89.5H135.8M141.2 89.5H152.6M158.2 89.5H169.6M175.4 89.5H186.8M191.9 89.5H203.3M209.2 89.5H220.6M226.4 89.5H237.8M243.5 89.5H254.9M260.3 89.5H271.7M277.3 89.5H288.7M294.5 89.5H305.9M311.7 89.5H323.1M328.5 89.5H339.9M345.0 89.5H351.2" stroke="#f00" stroke-width="1.2" fill="none"/>
<text x="296.00" y="57.60" font-size="7.3" font-weight="bold" text-anchor="start" fill="#f00">RMS=110V</text>
<line x1="296" y1="55.3" x2="285" y2="61.3" stroke="#f00" stroke-width="0.8"/>
<polygon points="279.6,64.3 285.5,58.5 287.8,62.4" fill="#f00"/>
<polyline points="88.20,129.34 88.64,128.60 89.08,127.79 89.52,126.91 89.96,125.97 90.40,124.97 90.84,123.94 91.28,122.88 91.72,121.80 92.16,120.72 92.60,119.65 93.04,118.59 93.48,117.57 93.92,116.59 94.36,115.66 94.80,114.79 95.24,114.00 95.68,113.29 96.12,112.67 96.56,112.14 97.00,111.72 97.44,111.41 97.88,111.20 98.32,111.11 98.76,111.13 99.19,111.26 99.63,111.51 100.07,111.86 100.51,112.32 100.95,112.88 101.39,113.53 101.83,114.27 102.27,115.09 102.71,115.98 103.15,116.93 103.59,117.93 104.03,118.96 104.47,120.03 104.91,121.11 105.35,122.19 105.79,123.26 106.23,124.31 106.67,125.33 107.11,126.31 107.55,127.23 107.99,128.09 108.43,128.87 108.87,129.58 109.31,130.19 109.75,130.70 110.19,131.12 110.63,131.42 111.07,131.62 111.51,131.70 111.95,131.67 112.39,131.52 112.83,131.26 113.27,130.90 113.71,130.43 114.15,129.86 114.59,129.20 115.03,128.45 115.47,127.62 115.91,126.73 116.35,125.77 116.79,124.77 117.23,123.73 117.67,122.67 118.11,121.59 118.55,120.51 118.99,119.43 119.43,118.38 119.87,117.37 120.31,116.40 120.75,115.48 121.18,114.63 121.62,113.85 122.06,113.16 122.50,112.56 122.94,112.05 123.38,111.65 123.82,111.35 124.26,111.17 124.70,111.10 125.14,111.14 125.58,111.30 126.02,111.57 126.46,111.94 126.90,112.42 127.34,113.00 127.78,113.67 128.22,114.43 128.66,115.27 129.10,116.17 129.54,117.13 129.98,118.13 130.42,119.18 130.86,120.24 131.30,121.32 131.74,122.40 132.18,123.47 132.62,124.52 133.06,125.53 133.50,126.50 133.94,127.41 134.38,128.25 134.82,129.02 135.26,129.71 135.70,130.30 136.14,130.79 136.58,131.19 137.02,131.47 137.46,131.64 137.90,131.70 138.34,131.65 138.78,131.48 139.22,131.20 139.66,130.81 140.10,130.32 140.54,129.73 140.98,129.05 141.42,128.29 141.86,127.45 142.30,126.54 142.74,125.57 143.17,124.56 143.61,123.52 144.05,122.45 144.49,121.37 144.93,120.29 145.37,119.22 145.81,118.18 146.25,117.17 146.69,116.21 147.13,115.30 147.57,114.47 148.01,113.71 148.45,113.03 148.89,112.45 149.33,111.96 149.77,111.58 150.21,111.31 150.65,111.15 151.09,111.10 151.53,111.17 151.97,111.34 152.41,111.63 152.85,112.03 153.29,112.53 153.73,113.13 154.17,113.82 154.61,114.59 155.05,115.44 155.49,116.35 155.93,117.32 156.37,118.34 156.81,119.39 157.25,120.46 157.69,121.54 158.13,122.62 158.57,123.68 159.01,124.72 159.45,125.73 159.89,126.68 160.33,127.58 160.77,128.41 161.21,129.17 161.65,129.83 162.09,130.41 162.53,130.88 162.97,131.25 163.41,131.51 163.85,131.66 164.29,131.70 164.73,131.62 165.16,131.43 165.60,131.13 166.04,130.72 166.48,130.21 166.92,129.61 167.36,128.91 167.80,128.13 168.24,127.27 168.68,126.35 169.12,125.38 169.56,124.36 170.00,123.31 170.44,122.23 170.88,121.15 171.32,120.07 171.76,119.01 172.20,117.97 172.64,116.97 173.08,116.02 173.52,115.13 173.96,114.31 174.40,113.56 174.84,112.91 175.28,112.34 175.72,111.88 176.16,111.52 176.60,111.27 177.04,111.13 177.48,111.10 177.92,111.19 178.36,111.39 178.80,111.70 179.24,112.12 179.68,112.64 180.12,113.26 180.56,113.97 181.00,114.76 181.44,115.62 181.88,116.54 182.32,117.52 182.76,118.55 183.20,119.60 183.64,120.67 184.08,121.75 184.52,122.83 184.96,123.89 185.40,124.93 185.84,125.92 186.28,126.87 186.72,127.75 187.15,128.57 187.59,129.31 188.03,129.95 188.47,130.51 188.91,130.96 189.35,131.31 189.79,131.55 190.23,131.68 190.67,131.69 191.11,131.59 191.55,131.38 191.99,131.06 192.43,130.63 192.87,130.10 193.31,129.47 193.75,128.76 194.19,127.96 194.63,127.09 195.07,126.16 195.51,125.18 195.95,124.15 196.39,123.09 196.83,122.02 197.27,120.94 197.71,119.86 198.15,118.80 198.59,117.77 199.03,116.78 199.47,115.84 199.91,114.96 200.35,114.15 200.79,113.43 201.23,112.79 201.67,112.24 202.11,111.80 202.55,111.46 202.99,111.23 203.43,111.12 203.87,111.11 204.31,111.22 204.75,111.45 205.19,111.78 205.63,112.22 206.07,112.76 206.51,113.40 206.95,114.12 207.39,114.92 207.83,115.80 208.27,116.74 208.71,117.73 209.14,118.75 209.58,119.81 210.02,120.89 210.46,121.97 210.90,123.05 211.34,124.10 211.78,125.13 212.22,126.12 212.66,127.05 213.10,127.92 213.54,128.72 213.98,129.44 214.41,130.09 214.84,130.60 215.28,130.99 215.71,131.28 216.14,131.46 216.57,131.57 217.00,131.60 217.48,131.36 217.97,130.74 218.45,129.95 218.93,129.16 219.42,128.54 219.90,128.30 220.37,128.71 220.83,129.49 221.30,129.90 221.75,129.74 222.19,129.28 222.64,128.57 223.09,127.65 223.54,126.54 223.98,125.30 224.43,123.96 224.88,122.56 225.32,121.14 225.77,119.74 226.22,118.40 226.66,117.16 227.11,116.05 227.56,115.13 228.01,114.42 228.45,113.96 228.90,113.80 229.38,114.23 229.85,115.35 230.32,116.93 230.80,118.75 231.28,120.57 231.75,122.15 232.22,123.27 232.70,123.70 233.16,123.52 233.62,123.10 234.08,122.60 234.54,122.18 235.00,122.00 235.44,122.19 235.88,122.73 236.32,123.56 236.76,124.63 237.20,125.89 237.64,127.28 238.08,128.75 238.52,130.25 238.96,131.72 239.40,133.11 239.84,134.37 240.28,135.44 240.72,136.27 241.16,136.81 241.60,137.00 242.07,136.68 242.54,135.79 243.01,134.49 243.48,132.92 243.95,131.20 244.42,129.48 244.89,127.91 245.36,126.61 245.83,125.72 246.30,125.40 246.73,125.81 247.15,126.70 247.57,127.59 248.00,128.00 248.47,127.81 248.94,127.27 249.41,126.43 249.88,125.34 250.34,124.06 250.81,122.62 251.28,121.09 251.75,119.50 252.22,117.91 252.69,116.38 253.16,114.94 253.62,113.66 254.09,112.57 254.56,111.73 255.03,111.19 255.50,111.00 255.97,111.42 256.44,112.49 256.91,113.95 257.39,115.55 257.86,117.01 258.33,118.08 258.80,118.50 259.24,118.23 259.68,117.58 260.12,116.82 260.56,116.17 261.00,115.90 261.46,116.04 261.92,116.44 262.37,117.06 262.83,117.89 263.29,118.88 263.75,120.01 264.21,121.25 264.66,122.56 265.12,123.91 265.58,125.29 266.04,126.64 266.49,127.95 266.95,129.19 267.41,130.32 267.87,131.31 268.33,132.14 268.78,132.76 269.24,133.16 269.70,133.30 270.13,132.63 270.57,130.94 271.00,128.75 271.43,126.56 271.87,124.87 272.30,124.20 272.73,124.79 273.15,126.10 273.57,127.41 274.00,128.00 274.46,127.83 274.93,127.33 275.39,126.56 275.86,125.55 276.32,124.35 276.79,123.00 277.25,121.54 277.72,120.02 278.18,118.48 278.65,116.96 279.11,115.50 279.58,114.15 280.04,112.95 280.51,111.94 280.97,111.17 281.44,110.67 281.90,110.50 282.37,110.98 282.84,112.22 283.31,113.92 283.79,115.78 284.26,117.48 284.73,118.72 285.20,119.20 285.64,118.82 286.08,117.90 286.52,116.80 286.96,115.88 287.40,115.50 287.85,115.68 288.31,116.17 288.76,116.95 289.21,117.96 289.66,119.17 290.12,120.53 290.57,121.99 291.02,123.52 291.48,125.08 291.93,126.61 292.38,128.07 292.84,129.43 293.29,130.64 293.74,131.65 294.19,132.43 294.65,132.92 295.10,133.10 295.54,132.58 295.99,131.26 296.43,129.44 296.87,127.46 297.31,125.64 297.76,124.32 298.20,123.80 298.65,124.46 299.10,125.90 299.55,127.34 300.00,128.00 300.46,127.84 300.92,127.40 301.38,126.70 301.83,125.79 302.29,124.70 302.75,123.46 303.21,122.12 303.67,120.70 304.12,119.25 304.58,117.80 305.04,116.38 305.50,115.04 305.96,113.80 306.42,112.71 306.88,111.80 307.33,111.10 307.79,110.66 308.25,110.50 308.72,110.98 309.19,112.22 309.66,113.92 310.14,115.78 310.61,117.48 311.08,118.72 311.55,119.20 311.99,118.82 312.43,117.90 312.87,116.80 313.31,115.88 313.75,115.50 314.20,115.68 314.66,116.17 315.11,116.95 315.56,117.96 316.01,119.17 316.47,120.53 316.92,121.99 317.37,123.52 317.83,125.08 318.28,126.61 318.73,128.07 319.19,129.43 319.64,130.64 320.09,131.65 320.54,132.43 321.00,132.92 321.45,133.10 321.89,132.58 322.34,131.26 322.78,129.44 323.22,127.46 323.66,125.64 324.11,124.32 324.55,123.80 325.00,124.46 325.45,125.90 325.90,127.34 326.35,128.00 326.81,127.84 327.27,127.40 327.73,126.70 328.18,125.79 328.64,124.70 329.10,123.46 329.56,122.12 330.02,120.70 330.48,119.25 330.93,117.80 331.39,116.38 331.85,115.04 332.31,113.80 332.77,112.71 333.23,111.80 333.68,111.10 334.14,110.66 334.60,110.50 335.07,110.98 335.54,112.22 336.01,113.92 336.49,115.78 336.96,117.48 337.43,118.72 337.90,119.20 338.34,118.82 338.78,117.90 339.22,116.80 339.66,115.88 340.10,115.50 340.55,115.68 341.01,116.17 341.46,116.95 341.91,117.96 342.36,119.17 342.82,120.53 343.27,121.99 343.72,123.52 344.18,125.08 344.63,126.61 345.08,128.07 345.54,129.43 345.99,130.64 346.44,131.65 346.89,132.43 347.35,132.92 347.80,133.10 348.26,132.77 348.71,131.86 349.17,130.46 349.63,128.68 350.09,126.61 350.54,124.35 351.00,122.00" fill="none" stroke="#000" stroke-width="1.12" stroke-linejoin="round"/>
<polyline points="88.20,165.18 88.64,164.61 89.08,164.10 89.52,163.65 89.96,163.27 90.40,162.96 90.84,162.73 91.28,162.58 91.72,162.51 92.16,162.52 92.60,162.61 93.04,162.78 93.48,163.03 93.92,163.36 94.36,163.76 94.80,164.22 95.24,164.75 95.68,165.34 96.12,165.97 96.56,166.65 97.00,167.37 97.44,168.11 97.88,168.88 98.32,169.65 98.76,170.43 99.19,171.20 99.63,171.95 100.07,172.69 100.51,173.39 100.95,174.06 101.39,174.68 101.83,175.24 102.27,175.75 102.71,176.19 103.15,176.57 103.59,176.87 104.03,177.09 104.47,177.23 104.91,177.30 105.35,177.28 105.79,177.18 106.23,177.00 106.67,176.74 107.11,176.41 107.55,176.00 107.99,175.53 108.43,174.99 108.87,174.40 109.31,173.76 109.75,173.08 110.19,172.36 110.63,171.61 111.07,170.85 111.51,170.07 111.95,169.30 112.39,168.53 112.83,167.77 113.27,167.04 113.71,166.34 114.15,165.68 114.59,165.06 115.03,164.50 115.47,164.00 115.91,163.57 116.35,163.20 116.79,162.91 117.23,162.69 117.67,162.56 118.11,162.50 118.55,162.53 118.99,162.64 119.43,162.82 119.87,163.09 120.31,163.43 120.75,163.84 121.18,164.32 121.62,164.87 122.06,165.46 122.50,166.11 122.94,166.79 123.38,167.52 123.82,168.26 124.26,169.03 124.70,169.81 125.14,170.58 125.58,171.35 126.02,172.10 126.46,172.83 126.90,173.53 127.34,174.19 127.78,174.79 128.22,175.35 128.66,175.84 129.10,176.27 129.54,176.63 129.98,176.92 130.42,177.13 130.86,177.25 131.30,177.30 131.74,177.26 132.18,177.15 132.62,176.95 133.06,176.68 133.50,176.33 133.94,175.91 134.38,175.42 134.82,174.88 135.26,174.28 135.70,173.63 136.14,172.93 136.58,172.21 137.02,171.46 137.46,170.69 137.90,169.92 138.34,169.14 138.78,168.37 139.22,167.62 139.66,166.90 140.10,166.20 140.54,165.55 140.98,164.95 141.42,164.40 141.86,163.91 142.30,163.49 142.74,163.14 143.17,162.86 143.61,162.66 144.05,162.54 144.49,162.50 144.93,162.54 145.37,162.67 145.81,162.87 146.25,163.15 146.69,163.51 147.13,163.94 147.57,164.43 148.01,164.98 148.45,165.59 148.89,166.24 149.33,166.94 149.77,167.66 150.21,168.42 150.65,169.18 151.09,169.96 151.53,170.74 151.97,171.50 152.41,172.25 152.85,172.97 153.29,173.66 153.73,174.31 154.17,174.91 154.61,175.45 155.05,175.94 155.49,176.35 155.93,176.70 156.37,176.97 156.81,177.16 157.25,177.27 157.69,177.30 158.13,177.25 158.57,177.12 159.01,176.90 159.45,176.61 159.89,176.25 160.33,175.82 160.77,175.32 161.21,174.76 161.65,174.15 162.09,173.49 162.53,172.79 162.97,172.06 163.41,171.31 163.85,170.54 164.29,169.76 164.73,168.99 165.16,168.22 165.60,167.47 166.04,166.75 166.48,166.07 166.92,165.43 167.36,164.83 167.80,164.30 168.24,163.82 168.68,163.41 169.12,163.07 169.56,162.81 170.00,162.63 170.44,162.52 170.88,162.50 171.32,162.56 171.76,162.70 172.20,162.92 172.64,163.22 173.08,163.59 173.52,164.03 173.96,164.53 174.40,165.10 174.84,165.71 175.28,166.38 175.72,167.08 176.16,167.81 176.60,168.57 177.04,169.34 177.48,170.12 177.92,170.89 178.36,171.65 178.80,172.40 179.24,173.12 179.68,173.80 180.12,174.43 180.56,175.02 181.00,175.55 181.44,176.02 181.88,176.43 182.32,176.76 182.76,177.01 183.20,177.19 183.64,177.28 184.08,177.30 184.52,177.23 184.96,177.08 185.40,176.85 185.84,176.55 186.28,176.17 186.72,175.72 187.15,175.21 187.59,174.64 188.03,174.02 188.47,173.35 188.91,172.65 189.35,171.91 189.79,171.16 190.23,170.38 190.67,169.61 191.11,168.83 191.55,168.07 191.99,167.33 192.43,166.61 192.87,165.94 193.31,165.30 193.75,164.72 194.19,164.20 194.63,163.73 195.07,163.34 195.51,163.02 195.95,162.77 196.39,162.60 196.83,162.51 197.27,162.51 197.71,162.58 198.15,162.74 198.59,162.97 199.03,163.29 199.47,163.67 199.91,164.12 200.35,164.64 200.79,165.22 201.23,165.84 201.67,166.51 202.11,167.22 202.55,167.96 202.99,168.72 203.43,169.49 203.87,170.27 204.31,171.04 204.75,171.80 205.19,172.54 205.63,173.25 206.07,173.93 206.51,174.56 206.95,175.13 207.39,175.65 207.83,176.11 208.27,176.50 208.71,176.81 209.14,177.05 209.58,177.21 210.02,177.29 210.46,177.29 210.90,177.20 211.34,177.04 211.78,176.80 212.22,176.48 212.66,176.09 213.10,175.63 213.55,174.89 213.99,174.13 214.43,173.33 214.87,172.50 215.32,171.65 215.76,170.78 216.20,169.87 216.64,168.95 217.09,168.00 217.53,167.04 217.97,166.05 218.41,165.05 218.86,164.03 219.30,163.00 219.74,161.81 220.18,160.38 220.61,158.82 221.05,157.27 221.49,155.85 221.93,154.68 222.36,153.89 222.80,153.60 223.27,153.78 223.73,154.27 224.20,155.04 224.67,156.02 225.13,157.18 225.60,158.46 226.07,159.81 226.53,161.19 227.00,162.54 227.47,163.82 227.93,164.98 228.40,165.96 228.87,166.73 229.33,167.22 229.80,167.40 230.30,167.07 230.80,166.35 231.30,165.63 231.80,165.30 232.24,165.62 232.68,166.51 233.12,167.81 233.56,169.38 234.00,171.10 234.44,172.82 234.88,174.39 235.32,175.69 235.76,176.58 236.20,176.90 236.67,176.69 237.14,176.09 237.61,175.18 238.08,174.03 238.55,172.71 239.02,171.28 239.48,169.82 239.95,168.39 240.42,167.07 240.89,165.92 241.36,165.01 241.83,164.41 242.30,164.20 242.74,164.49 243.18,165.19 243.62,166.01 244.06,166.71 244.50,167.00 244.95,166.73 245.39,165.97 245.84,164.85 246.28,163.45 246.73,161.90 247.17,160.30 247.62,158.75 248.06,157.35 248.51,156.23 248.95,155.47 249.40,155.20 249.86,155.38 250.31,155.87 250.77,156.64 251.22,157.64 251.68,158.82 252.14,160.14 252.59,161.55 253.05,163.00 253.51,164.45 253.96,165.86 254.42,167.18 254.88,168.36 255.33,169.36 255.79,170.13 256.24,170.62 256.70,170.80 257.12,170.68 257.55,170.40 257.97,170.12 258.40,170.00 258.84,170.36 259.28,171.35 259.72,172.81 260.16,174.58 260.60,176.50 261.04,178.42 261.48,180.19 261.92,181.65 262.36,182.64 262.80,183.00 263.26,182.75 263.72,182.06 264.18,181.00 264.65,179.66 265.11,178.12 265.57,176.45 266.03,174.75 266.49,173.08 266.95,171.54 267.42,170.20 267.88,169.14 268.34,168.45 268.80,168.20 269.25,168.31 269.70,168.55 270.15,168.79 270.60,168.90 271.04,168.65 271.48,167.94 271.93,166.88 272.37,165.56 272.81,164.05 273.25,162.45 273.69,160.85 274.13,159.34 274.57,158.02 275.02,156.96 275.46,156.25 275.90,156.00 276.36,156.21 276.83,156.81 277.29,157.72 277.76,158.89 278.22,160.26 278.69,161.75 279.15,163.30 279.61,164.85 280.08,166.34 280.54,167.71 281.01,168.88 281.47,169.79 281.94,170.39 282.40,170.60 282.82,170.54 283.25,170.40 283.67,170.26 284.10,170.20 284.54,170.45 284.98,171.16 285.42,172.22 285.87,173.54 286.31,175.05 286.75,176.65 287.19,178.25 287.63,179.76 288.07,181.08 288.52,182.14 288.96,182.85 289.40,183.10 289.87,182.85 290.34,182.16 290.81,181.11 291.28,179.78 291.75,178.25 292.22,176.60 292.68,174.90 293.15,173.25 293.62,171.72 294.09,170.39 294.56,169.34 295.03,168.65 295.50,168.40 296.00,168.63 296.50,169.07 297.00,169.30 297.44,169.04 297.88,168.31 298.32,167.22 298.77,165.85 299.21,164.30 299.65,162.65 300.09,161.00 300.53,159.45 300.98,158.08 301.42,156.99 301.86,156.26 302.30,156.00 302.76,156.21 303.23,156.81 303.69,157.72 304.16,158.89 304.62,160.26 305.09,161.75 305.55,163.30 306.01,164.85 306.48,166.34 306.94,167.71 307.41,168.88 307.87,169.79 308.34,170.39 308.80,170.60 309.23,170.54 309.65,170.40 310.07,170.26 310.50,170.20 310.94,170.45 311.38,171.16 311.82,172.22 312.27,173.54 312.71,175.05 313.15,176.65 313.59,178.25 314.03,179.76 314.48,181.08 314.92,182.14 315.36,182.85 315.80,183.10 316.27,182.85 316.74,182.16 317.21,181.11 317.68,179.78 318.15,178.25 318.62,176.60 319.08,174.90 319.55,173.25 320.02,171.72 320.49,170.39 320.96,169.34 321.43,168.65 321.90,168.40 322.40,168.63 322.90,169.07 323.40,169.30 323.87,168.99 324.35,168.14 324.82,166.87 325.29,165.30 325.76,163.55 326.24,161.75 326.71,160.00 327.18,158.43 327.65,157.16 328.13,156.31 328.60,156.00 329.06,156.21 329.53,156.81 329.99,157.72 330.46,158.89 330.92,160.26 331.39,161.75 331.85,163.30 332.31,164.85 332.78,166.34 333.24,167.71 333.71,168.88 334.17,169.79 334.64,170.39 335.10,170.60 335.53,170.54 335.95,170.40 336.38,170.26 336.80,170.20 337.24,170.45 337.68,171.16 338.12,172.22 338.57,173.54 339.01,175.05 339.45,176.65 339.89,178.25 340.33,179.76 340.78,181.08 341.22,182.14 341.66,182.85 342.10,183.10 342.57,182.85 343.04,182.16 343.51,181.11 343.98,179.78 344.45,178.25 344.92,176.60 345.38,174.90 345.85,173.25 346.32,171.72 346.79,170.39 347.26,169.34 347.73,168.65 348.20,168.40 348.70,168.60 349.20,168.99 349.70,169.30 350.13,169.44 350.57,169.54 351.00,169.60" fill="none" stroke="#000" stroke-width="1.12" stroke-linejoin="round"/>
<path d="M88.20 20.54h2.3M351.20 20.54h-2.3" stroke="#3a3a3a" stroke-width="0.7"/>
<text transform="translate(85.90 24.40) scale(1.06 1)" font-size="7.2" font-weight="bold" text-anchor="end" fill="#000" stroke="#000" stroke-width="0.3">144</text>
<path d="M88.20 32.40h2.3M351.20 32.40h-2.3" stroke="#3a3a3a" stroke-width="0.7"/>
<text transform="translate(85.90 36.50) scale(1.06 1)" font-size="7.2" font-weight="bold" text-anchor="end" fill="#000" stroke="#000" stroke-width="0.3">0</text>
<path d="M88.20 44.26h2.3M351.20 44.26h-2.3" stroke="#3a3a3a" stroke-width="0.7"/>
<text transform="translate(85.90 48.50) scale(1.06 1)" font-size="7.2" font-weight="bold" text-anchor="end" fill="#000" stroke="#000" stroke-width="0.3">-144</text>
<path d="M88.20 64.40h2.3M351.20 64.40h-2.3" stroke="#3a3a3a" stroke-width="0.7"/>
<text transform="translate(85.90 68.60) scale(1.06 1)" font-size="7.2" font-weight="bold" text-anchor="end" fill="#000" stroke="#000" stroke-width="0.3">156</text>
<path d="M88.20 76.80h2.3M351.20 76.80h-2.3" stroke="#3a3a3a" stroke-width="0.7"/>
<text transform="translate(85.90 80.70) scale(1.06 1)" font-size="7.2" font-weight="bold" text-anchor="end" fill="#000" stroke="#000" stroke-width="0.3">0</text>
<path d="M88.20 89.20h2.3M351.20 89.20h-2.3" stroke="#3a3a3a" stroke-width="0.7"/>
<text transform="translate(85.90 93.10) scale(1.06 1)" font-size="7.2" font-weight="bold" text-anchor="end" fill="#000" stroke="#000" stroke-width="0.3">-156</text>
<text transform="translate(85.90 109.50) scale(1.06 1)" font-size="7.2" font-weight="bold" text-anchor="end" fill="#000" stroke="#000" stroke-width="0.3">200</text>
<path d="M88.20 121.65h2.3M351.20 121.65h-2.3" stroke="#3a3a3a" stroke-width="0.7"/>
<text transform="translate(85.90 125.90) scale(1.06 1)" font-size="7.2" font-weight="bold" text-anchor="end" fill="#000" stroke="#000" stroke-width="0.3">0</text>
<text transform="translate(85.90 142.20) scale(1.06 1)" font-size="7.2" font-weight="bold" text-anchor="end" fill="#000" stroke="#000" stroke-width="0.3">-200</text>
<text transform="translate(85.90 158.60) scale(1.06 1)" font-size="7.2" font-weight="bold" text-anchor="end" fill="#000" stroke="#000" stroke-width="0.3">200</text>
<path d="M88.20 169.85h2.3M351.20 169.85h-2.3" stroke="#3a3a3a" stroke-width="0.7"/>
<text transform="translate(85.90 174.00) scale(1.06 1)" font-size="7.2" font-weight="bold" text-anchor="end" fill="#000" stroke="#000" stroke-width="0.3">0</text>
<text transform="translate(85.90 190.00) scale(1.06 1)" font-size="7.2" font-weight="bold" text-anchor="end" fill="#000" stroke="#000" stroke-width="0.3">-200</text>
<text transform="translate(65.20 34.50) rotate(-90) scale(1.08 1)" font-size="8.4" font-weight="bold" text-anchor="middle" stroke="#000" stroke-width="0.25">V<tspan font-size="5.6" dy="1.5">G</tspan><tspan dy="-1.5">(V)</tspan></text>
<text transform="translate(65.20 80.50) rotate(-90) scale(1.08 1)" font-size="8.4" font-weight="bold" text-anchor="middle" stroke="#000" stroke-width="0.25">V<tspan font-size="5.6" dy="1.5">S</tspan><tspan dy="-1.5">(V)</tspan></text>
<text transform="translate(65.20 125.00) rotate(-90) scale(1.08 1)" font-size="8.4" font-weight="bold" text-anchor="middle" stroke="#000" stroke-width="0.25">V<tspan font-size="5.6" dy="1.5">ES</tspan><tspan dy="-1.5">(V)</tspan></text>
<text transform="translate(67.80 168.30) rotate(-90) scale(1.08 1)" font-size="8.4" font-weight="bold" text-anchor="middle" stroke="#000" stroke-width="0.25">V<tspan font-size="5.6" dy="1.5">nc</tspan><tspan dy="-1.5">(V)</tspan></text>
<text transform="translate(90.40 198.30) scale(1.06 1)" font-size="7.2" font-weight="bold" text-anchor="middle" fill="#000" stroke="#000" stroke-width="0.3">0.1</text>
<text transform="translate(116.70 198.30) scale(1.06 1)" font-size="7.2" font-weight="bold" text-anchor="middle" fill="#000" stroke="#000" stroke-width="0.3">0.12</text>
<text transform="translate(143.00 198.30) scale(1.06 1)" font-size="7.2" font-weight="bold" text-anchor="middle" fill="#000" stroke="#000" stroke-width="0.3">0.14</text>
<text transform="translate(169.30 198.30) scale(1.06 1)" font-size="7.2" font-weight="bold" text-anchor="middle" fill="#000" stroke="#000" stroke-width="0.3">0.16</text>
<text transform="translate(195.60 198.30) scale(1.06 1)" font-size="7.2" font-weight="bold" text-anchor="middle" fill="#000" stroke="#000" stroke-width="0.3">0.18</text>
<text transform="translate(221.90 198.30) scale(1.06 1)" font-size="7.2" font-weight="bold" text-anchor="middle" fill="#000" stroke="#000" stroke-width="0.3">0.2</text>
<text transform="translate(248.20 198.30) scale(1.06 1)" font-size="7.2" font-weight="bold" text-anchor="middle" fill="#000" stroke="#000" stroke-width="0.3">0.22</text>
<text transform="translate(274.50 198.30) scale(1.06 1)" font-size="7.2" font-weight="bold" text-anchor="middle" fill="#000" stroke="#000" stroke-width="0.3">0.24</text>
<text transform="translate(300.80 198.30) scale(1.06 1)" font-size="7.2" font-weight="bold" text-anchor="middle" fill="#000" stroke="#000" stroke-width="0.3">0.26</text>
<text transform="translate(327.10 198.30) scale(1.06 1)" font-size="7.2" font-weight="bold" text-anchor="middle" fill="#000" stroke="#000" stroke-width="0.3">0.28</text>
<text transform="translate(353.40 198.30) scale(1.06 1)" font-size="7.2" font-weight="bold" text-anchor="middle" fill="#000" stroke="#000" stroke-width="0.3">0.3</text>
<text x="221.50" y="212.80" font-size="9.0" font-weight="bold" text-anchor="middle" fill="#000">Time(s)</text>
<text x="208.6" y="230.8" font-size="12.6" text-anchor="middle">(<tspan font-weight="bold">a</tspan>)</text>
<text x="208.6" y="545.6" font-size="12.6" text-anchor="middle">(<tspan font-weight="bold">b</tspan>)</text>
<path d="M23.00 249.40V351.50M172.75 249.40V351.50" stroke="#9a9a9a" stroke-width="1.5" fill="none"/>
<path d="M22.25 249.40H173.50" stroke="#666" stroke-width="0.9" fill="none"/>
<path d="M22.25 351.50H173.50" stroke="#666" stroke-width="0.9" fill="none"/>
<polyline points="23.00,300.65 23.36,295.32 23.71,290.14 24.07,285.26 24.43,280.81 24.79,276.88 25.14,273.54 25.50,270.82 25.86,268.71 26.22,267.16 26.57,266.10 26.93,265.44 27.29,265.09 27.65,264.92 28.00,264.84 28.36,264.75 28.72,264.59 29.08,264.32 29.43,263.90 29.79,263.33 30.15,262.65 30.51,261.89 30.86,261.09 31.22,260.32 31.58,259.61 31.93,259.02 32.29,258.56 32.65,258.25 33.01,258.09 33.36,258.05 33.72,258.12 34.08,258.25 34.44,258.41 34.79,258.54 35.15,258.64 35.51,258.67 35.87,258.63 36.22,258.52 36.58,258.38 36.94,258.23 37.30,258.11 37.65,258.05 38.01,258.10 38.37,258.29 38.73,258.62 39.08,259.11 39.44,259.72 39.80,260.45 40.16,261.23 40.51,262.02 40.87,262.77 41.23,263.44 41.58,263.98 41.94,264.37 42.30,264.63 42.66,264.77 43.01,264.85 43.37,264.94 43.73,265.13 44.09,265.53 44.44,266.24 44.80,267.38 45.16,269.02 45.52,271.23 45.87,274.06 46.23,277.50 46.59,281.52 46.95,286.05 47.30,290.98 47.66,296.20 48.02,301.54 48.38,306.86 48.73,312.00 49.09,316.81 49.45,321.18 49.80,325.02 50.16,328.25 50.52,330.87 50.88,332.89 51.23,334.35 51.59,335.34 51.95,335.93 52.31,336.25 52.66,336.40 53.02,336.47 53.38,336.57 53.74,336.74 54.09,337.04 54.45,337.49 54.81,338.07 55.17,338.77 55.52,339.54 55.88,340.34 56.24,341.10 56.60,341.79 56.95,342.37 57.31,342.80 57.67,343.09 58.03,343.23 58.38,343.24 58.74,343.16 59.10,343.02 59.45,342.87 59.81,342.74 60.17,342.65 60.53,342.64 60.88,342.69 61.24,342.80 61.60,342.95 61.96,343.10 62.31,343.21 62.67,343.25 63.03,343.17 63.39,342.97 63.74,342.61 64.10,342.10 64.46,341.46 64.82,340.73 65.17,339.94 65.53,339.15 65.89,338.41 66.25,337.76 66.60,337.25 66.96,336.88 67.32,336.64 67.67,336.51 68.03,336.44 68.39,336.34 68.75,336.12 69.10,335.68 69.46,334.90 69.82,333.69 70.18,331.95 70.53,329.64 70.89,326.71 71.25,323.17 71.61,319.06 71.96,314.46 72.32,309.46 72.68,304.22 73.04,298.86 73.39,293.56 73.75,288.47 74.11,283.72 74.47,279.44 74.82,275.70 75.18,272.57 75.54,270.05 75.89,268.13 76.25,266.75 76.61,265.84 76.97,265.30 77.32,265.01 77.68,264.89 78.04,264.81 78.40,264.71 78.75,264.52 79.11,264.19 79.47,263.72 79.83,263.12 80.18,262.40 80.54,261.63 80.90,260.83 81.26,260.07 81.61,259.40 81.97,258.85 82.33,258.44 82.69,258.18 83.04,258.06 83.40,258.07 83.76,258.16 84.12,258.30 84.47,258.46 84.83,258.58 85.19,258.65 85.54,258.66 85.90,258.60 86.26,258.48 86.62,258.33 86.97,258.18 87.33,258.08 87.69,258.06 88.05,258.15 88.40,258.38 88.76,258.77 89.12,259.30 89.48,259.95 89.83,260.70 90.19,261.49 90.55,262.28 90.91,263.01 91.26,263.63 91.62,264.12 91.98,264.47 92.34,264.69 92.69,264.80 93.05,264.87 93.41,264.99 93.76,265.23 94.12,265.73 94.48,266.57 94.84,267.86 95.19,269.69 95.55,272.11 95.91,275.14 96.27,278.78 96.62,282.97 96.98,287.65 97.34,292.70 97.70,297.97 98.05,303.33 98.41,308.60 98.77,313.65 99.13,318.33 99.48,322.52 99.84,326.16 100.20,329.19 100.56,331.61 100.91,333.44 101.27,334.73 101.63,335.57 101.99,336.07 102.34,336.31 102.70,336.43 103.06,336.50 103.41,336.61 103.77,336.83 104.13,337.18 104.49,337.67 104.84,338.29 105.20,339.02 105.56,339.81 105.92,340.60 106.27,341.35 106.63,342.00 106.99,342.53 107.35,342.92 107.70,343.15 108.06,343.24 108.42,343.22 108.78,343.12 109.13,342.97 109.49,342.82 109.85,342.70 110.21,342.64 110.56,342.65 110.92,342.72 111.28,342.84 111.63,343.00 111.99,343.14 112.35,343.23 112.71,343.24 113.06,343.12 113.42,342.86 113.78,342.45 114.14,341.90 114.49,341.23 114.85,340.47 115.21,339.67 115.57,338.90 115.92,338.18 116.28,337.58 116.64,337.11 117.00,336.78 117.35,336.59 117.71,336.49 118.07,336.41 118.43,336.29 118.78,336.00 119.14,335.46 119.50,334.55 119.86,333.17 120.21,331.25 120.57,328.73 120.93,325.60 121.28,321.86 121.64,317.58 122.00,312.83 122.36,307.74 122.71,302.44 123.07,297.08 123.43,291.84 123.79,286.84 124.14,282.24 124.50,278.13 124.86,274.59 125.22,271.66 125.57,269.35 125.93,267.61 126.29,266.40 126.65,265.62 127.00,265.18 127.36,264.96 127.72,264.86 128.08,264.79 128.43,264.66 128.79,264.42 129.15,264.05 129.50,263.54 129.86,262.89 130.22,262.15 130.58,261.36 130.93,260.57 131.29,259.84 131.65,259.20 132.01,258.69 132.36,258.33 132.72,258.13 133.08,258.05 133.44,258.09 133.79,258.20 134.15,258.35 134.51,258.50 134.87,258.61 135.22,258.66 135.58,258.65 135.94,258.56 136.30,258.43 136.65,258.28 137.01,258.14 137.37,258.06 137.72,258.07 138.08,258.21 138.44,258.50 138.80,258.93 139.15,259.51 139.51,260.20 139.87,260.96 140.23,261.76 140.58,262.53 140.94,263.23 141.30,263.81 141.66,264.26 142.01,264.56 142.37,264.73 142.73,264.83 143.09,264.90 143.44,265.05 143.80,265.37 144.16,265.96 144.52,266.95 144.87,268.41 145.23,270.43 145.59,273.05 145.95,276.28 146.30,280.12 146.66,284.49 147.02,289.30 147.37,294.44 147.73,299.76 148.09,305.10 148.45,310.32 148.80,315.25 149.16,319.78 149.52,323.80 149.88,327.24 150.23,330.07 150.59,332.28 150.95,333.92 151.31,335.06 151.66,335.77 152.02,336.17 152.38,336.36 152.74,336.45 153.09,336.53 153.45,336.67 153.81,336.93 154.17,337.32 154.52,337.86 154.88,338.53 155.24,339.28 155.59,340.07 155.95,340.85 156.31,341.58 156.67,342.19 157.02,342.68 157.38,343.01 157.74,343.20 158.10,343.25 158.45,343.19 158.81,343.07 159.17,342.92 159.53,342.78 159.88,342.67 160.24,342.63 160.60,342.66 160.96,342.76 161.31,342.89 161.67,343.05 162.03,343.18 162.39,343.25 162.74,343.21 163.10,343.05 163.46,342.74 163.82,342.28 164.17,341.69 164.53,340.98 164.89,340.21 165.24,339.41 165.60,338.65 165.96,337.97 166.32,337.40 166.67,336.98 167.03,336.71 167.39,336.55 167.75,336.46 168.10,336.38 168.46,336.21 168.82,335.86 169.18,335.20 169.53,334.14 169.89,332.59 170.25,330.48 170.61,327.76 170.96,324.42 171.32,320.49 171.68,316.04 172.04,311.16 172.39,305.98 172.75,300.65" fill="none" stroke="#2a2a2a" stroke-width="0.75" stroke-linejoin="round"/>
<text x="106.20" y="245.50" font-size="6.8" font-weight="normal" text-anchor="middle" fill="#222">Line Voltage</text>
<text x="22.10" y="253.20" font-size="4.7" font-weight="bold" text-anchor="end" fill="#000" stroke="#000" stroke-width="0.12">144</text>
<path d="M23.00 251.50h1.5M172.75 251.50h-1.5" stroke="#5a5a5a" stroke-width="0.5"/>
<text x="22.10" y="302.35" font-size="4.7" font-weight="bold" text-anchor="end" fill="#000" stroke="#000" stroke-width="0.12">0</text>
<path d="M23.00 300.65h1.5M172.75 300.65h-1.5" stroke="#5a5a5a" stroke-width="0.5"/>
<text x="22.10" y="351.50" font-size="4.7" font-weight="bold" text-anchor="end" fill="#000" stroke="#000" stroke-width="0.12">-144</text>
<path d="M23.00 349.80h1.5M172.75 349.80h-1.5" stroke="#5a5a5a" stroke-width="0.5"/>
<text x="23.90" y="357.60" font-size="4.7" font-weight="bold" text-anchor="middle" fill="#000" stroke="#000" stroke-width="0.12">0.2</text>
<text x="48.56" y="357.60" font-size="4.7" font-weight="bold" text-anchor="middle" fill="#000" stroke="#000" stroke-width="0.12">0.21</text>
<path d="M47.96 351.50v-1.5M47.96 249.40v1.5" stroke="#5a5a5a" stroke-width="0.5"/>
<text x="73.52" y="357.60" font-size="4.7" font-weight="bold" text-anchor="middle" fill="#000" stroke="#000" stroke-width="0.12">0.22</text>
<path d="M72.92 351.50v-1.5M72.92 249.40v1.5" stroke="#5a5a5a" stroke-width="0.5"/>
<text x="98.47" y="357.60" font-size="4.7" font-weight="bold" text-anchor="middle" fill="#000" stroke="#000" stroke-width="0.12">0.23</text>
<path d="M97.88 351.50v-1.5M97.88 249.40v1.5" stroke="#5a5a5a" stroke-width="0.5"/>
<text x="123.43" y="357.60" font-size="4.7" font-weight="bold" text-anchor="middle" fill="#000" stroke="#000" stroke-width="0.12">0.24</text>
<path d="M122.83 351.50v-1.5M122.83 249.40v1.5" stroke="#5a5a5a" stroke-width="0.5"/>
<text x="148.39" y="357.60" font-size="4.7" font-weight="bold" text-anchor="middle" fill="#000" stroke="#000" stroke-width="0.12">0.25</text>
<path d="M147.79 351.50v-1.5M147.79 249.40v1.5" stroke="#5a5a5a" stroke-width="0.5"/>
<text x="172.75" y="357.60" font-size="4.7" font-weight="bold" text-anchor="middle" fill="#000" stroke="#000" stroke-width="0.12">0.26</text>
<text x="99.20" y="367.40" font-size="6.7" font-weight="bold" text-anchor="middle" fill="#000" stroke="#000" stroke-width="0.16">Time(s)</text>
<text x="14.60" y="294.90" font-size="6.9" font-weight="bold" text-anchor="middle" stroke="#000" stroke-width="0.16" transform="rotate(-90 14.60 294.90)">V<tspan font-size="4.7" dy="1">G</tspan><tspan dy="-1">(V)</tspan></text>
<path d="M21.55 387.25V496.30M171.40 387.25V496.30" stroke="#6a6a6a" stroke-width="0.95" fill="none"/>
<path d="M21.07 387.25H171.88" stroke="#666" stroke-width="0.9" fill="none"/>
<path d="M21.07 496.30H171.88" stroke="#666" stroke-width="0.9" fill="none"/>
<polyline points="21.55,447.14 21.91,445.25 22.27,443.35 22.62,441.45 22.98,439.55 23.34,437.65 23.70,435.77 24.05,433.89 24.41,432.04 24.77,430.20 25.13,428.39 25.48,426.60 25.84,424.85 26.20,423.13 26.56,421.44 26.91,419.80 27.27,418.21 27.63,416.66 27.99,415.16 28.35,413.72 28.70,412.33 29.06,411.00 29.42,409.74 29.78,408.54 30.13,407.40 30.49,406.34 30.85,405.35 31.21,404.43 31.56,403.58 31.92,402.82 32.28,402.13 32.64,401.52 32.99,400.99 33.35,400.55 33.71,400.19 34.07,399.91 34.42,399.72 34.78,399.61 35.14,399.58 35.50,399.64 35.86,399.79 36.21,400.02 36.57,400.33 36.93,400.73 37.29,401.21 37.64,401.78 38.00,402.42 38.36,403.14 38.72,403.94 39.07,404.82 39.43,405.77 39.79,406.79 40.15,407.89 40.50,409.05 40.86,410.28 41.22,411.57 41.58,412.93 41.94,414.34 42.29,415.81 42.65,417.33 43.01,418.90 43.37,420.51 43.72,422.17 44.08,423.87 44.44,425.60 44.80,427.37 45.15,429.17 45.51,430.99 45.87,432.84 46.23,434.71 46.58,436.58 46.94,438.47 47.30,440.37 47.66,442.27 48.02,444.17 48.37,446.07 48.73,447.96 49.09,449.84 49.45,451.70 49.80,453.54 50.16,455.36 50.52,457.15 50.88,458.91 51.23,460.64 51.59,462.33 51.95,463.99 52.31,465.59 52.66,467.15 53.02,468.66 53.38,470.12 53.74,471.52 54.09,472.87 54.45,474.15 54.81,475.36 55.17,476.52 55.53,477.60 55.88,478.61 56.24,479.55 56.60,480.41 56.96,481.20 57.31,481.90 57.67,482.53 58.03,483.08 58.39,483.55 58.74,483.93 59.10,484.23 59.46,484.44 59.82,484.57 60.17,484.62 60.53,484.58 60.89,484.46 61.25,484.25 61.61,483.95 61.96,483.58 62.32,483.12 62.68,482.57 63.04,481.95 63.39,481.25 63.75,480.47 64.11,479.61 64.47,478.68 64.82,477.67 65.18,476.59 65.54,475.45 65.90,474.24 66.25,472.96 66.61,471.62 66.97,470.22 67.33,468.77 67.69,467.26 68.04,465.71 68.40,464.10 68.76,462.45 69.12,460.76 69.47,459.04 69.83,457.28 70.19,455.49 70.55,453.67 70.90,451.83 71.26,449.97 71.62,448.09 71.98,446.20 72.33,444.31 72.69,442.41 73.05,440.51 73.41,438.61 73.77,436.72 74.12,434.84 74.48,432.97 74.84,431.13 75.20,429.30 75.55,427.50 75.91,425.73 76.27,423.99 76.63,422.29 76.98,420.63 77.34,419.01 77.70,417.44 78.06,415.91 78.41,414.44 78.77,413.02 79.13,411.67 79.49,410.37 79.84,409.14 80.20,407.97 80.56,406.87 80.92,405.84 81.28,404.88 81.63,404.00 81.99,403.20 82.35,402.47 82.71,401.82 83.06,401.25 83.42,400.76 83.78,400.36 84.14,400.04 84.49,399.80 84.85,399.65 85.21,399.58 85.57,399.60 85.92,399.71 86.28,399.89 86.64,400.17 87.00,400.52 87.36,400.96 87.71,401.48 88.07,402.08 88.43,402.77 88.79,403.53 89.14,404.37 89.50,405.28 89.86,406.27 90.22,407.33 90.57,408.46 90.93,409.65 91.29,410.91 91.65,412.23 92.00,413.62 92.36,415.06 92.72,416.55 93.08,418.10 93.44,419.69 93.79,421.33 94.15,423.01 94.51,424.72 94.87,426.48 95.22,428.26 95.58,430.07 95.94,431.91 96.30,433.76 96.65,435.63 97.01,437.52 97.37,439.41 97.73,441.31 98.08,443.21 98.44,445.11 98.80,447.00 99.16,448.89 99.51,450.76 99.87,452.61 100.23,454.44 100.59,456.25 100.95,458.03 101.30,459.77 101.66,461.48 102.02,463.16 102.38,464.79 102.73,466.37 103.09,467.91 103.45,469.39 103.81,470.82 104.16,472.20 104.52,473.51 104.88,474.76 105.24,475.94 105.59,477.06 105.95,478.11 106.31,479.08 106.67,479.98 107.03,480.81 107.38,481.56 107.74,482.22 108.10,482.81 108.46,483.32 108.81,483.75 109.17,484.09 109.53,484.34 109.89,484.52 110.24,484.61 110.60,484.61 110.96,484.53 111.32,484.36 111.67,484.11 112.03,483.78 112.39,483.36 112.75,482.86 113.11,482.28 113.46,481.61 113.82,480.87 114.18,480.05 114.54,479.16 114.89,478.19 115.25,477.15 115.61,476.04 115.97,474.86 116.32,473.61 116.68,472.31 117.04,470.94 117.40,469.51 117.75,468.03 118.11,466.50 118.47,464.92 118.83,463.29 119.18,461.62 119.54,459.91 119.90,458.17 120.26,456.39 120.62,454.59 120.97,452.76 121.33,450.91 121.69,449.04 122.05,447.16 122.40,445.27 122.76,443.37 123.12,441.47 123.48,439.57 123.83,437.67 124.19,435.79 124.55,433.91 124.91,432.06 125.26,430.22 125.62,428.41 125.98,426.62 126.34,424.87 126.70,423.15 127.05,421.46 127.41,419.82 127.77,418.22 128.13,416.68 128.48,415.18 128.84,413.73 129.20,412.35 129.56,411.02 129.91,409.75 130.27,408.55 130.63,407.42 130.99,406.35 131.34,405.36 131.70,404.44 132.06,403.59 132.42,402.83 132.78,402.14 133.13,401.53 133.49,401.00 133.85,400.55 134.21,400.19 134.56,399.91 134.92,399.72 135.28,399.61 135.64,399.58 135.99,399.64 136.35,399.79 136.71,400.02 137.07,400.33 137.42,400.73 137.78,401.21 138.14,401.77 138.50,402.41 138.86,403.13 139.21,403.93 139.57,404.81 139.93,405.76 140.29,406.78 140.64,407.88 141.00,409.04 141.36,410.27 141.72,411.56 142.07,412.91 142.43,414.32 142.79,415.79 143.15,417.31 143.50,418.88 143.86,420.49 144.22,422.15 144.58,423.85 144.93,425.59 145.29,427.35 145.65,429.15 146.01,430.97 146.37,432.82 146.72,434.68 147.08,436.56 147.44,438.45 147.80,440.35 148.15,442.25 148.51,444.15 148.87,446.05 149.23,447.94 149.58,449.81 149.94,451.68 150.30,453.52 150.66,455.34 151.01,457.13 151.37,458.89 151.73,460.62 152.09,462.32 152.45,463.97 152.80,465.58 153.16,467.14 153.52,468.65 153.88,470.11 154.23,471.51 154.59,472.85 154.95,474.13 155.31,475.35 155.66,476.50 156.02,477.59 156.38,478.60 156.74,479.54 157.09,480.40 157.45,481.19 157.81,481.90 158.17,482.53 158.53,483.07 158.88,483.54 159.24,483.92 159.60,484.23 159.96,484.44 160.31,484.57 160.67,484.62 161.03,484.58 161.39,484.46 161.74,484.25 162.10,483.96 162.46,483.58 162.82,483.12 163.17,482.58 163.53,481.96 163.89,481.26 164.25,480.48 164.60,479.62 164.96,478.69 165.32,477.68 165.68,476.61 166.04,475.46 166.39,474.25 166.75,472.97 167.11,471.64 167.47,470.24 167.82,468.79 168.18,467.28 168.54,465.72 168.90,464.12 169.25,462.47 169.61,460.78 169.97,459.06 170.33,457.30 170.68,455.51 171.04,453.69 171.40,451.85" fill="none" stroke="#2a2a2a" stroke-width="0.75" stroke-linejoin="round"/>
<text x="103.90" y="383.30" font-size="6.8" font-weight="normal" text-anchor="middle" fill="#222">Critical Load</text>
<text x="20.65" y="404.40" font-size="4.7" font-weight="bold" text-anchor="end" fill="#000" stroke="#000" stroke-width="0.12">144</text>
<path d="M21.55 402.70h1.5M171.40 402.70h-1.5" stroke="#5a5a5a" stroke-width="0.5"/>
<text x="20.65" y="443.80" font-size="4.7" font-weight="bold" text-anchor="end" fill="#000" stroke="#000" stroke-width="0.12">0</text>
<path d="M21.55 442.10h1.5M171.40 442.10h-1.5" stroke="#5a5a5a" stroke-width="0.5"/>
<text x="20.65" y="483.20" font-size="4.7" font-weight="bold" text-anchor="end" fill="#000" stroke="#000" stroke-width="0.12">-144</text>
<path d="M21.55 481.50h1.5M171.40 481.50h-1.5" stroke="#5a5a5a" stroke-width="0.5"/>
<text x="22.45" y="502.30" font-size="4.7" font-weight="bold" text-anchor="middle" fill="#000" stroke="#000" stroke-width="0.12">0.2</text>
<text x="47.12" y="502.30" font-size="4.7" font-weight="bold" text-anchor="middle" fill="#000" stroke="#000" stroke-width="0.12">0.21</text>
<path d="M46.52 496.30v-1.5M46.52 387.25v1.5" stroke="#5a5a5a" stroke-width="0.5"/>
<text x="72.10" y="502.30" font-size="4.7" font-weight="bold" text-anchor="middle" fill="#000" stroke="#000" stroke-width="0.12">0.22</text>
<path d="M71.50 496.30v-1.5M71.50 387.25v1.5" stroke="#5a5a5a" stroke-width="0.5"/>
<text x="97.07" y="502.30" font-size="4.7" font-weight="bold" text-anchor="middle" fill="#000" stroke="#000" stroke-width="0.12">0.23</text>
<path d="M96.47 496.30v-1.5M96.47 387.25v1.5" stroke="#5a5a5a" stroke-width="0.5"/>
<text x="122.05" y="502.30" font-size="4.7" font-weight="bold" text-anchor="middle" fill="#000" stroke="#000" stroke-width="0.12">0.24</text>
<path d="M121.45 496.30v-1.5M121.45 387.25v1.5" stroke="#5a5a5a" stroke-width="0.5"/>
<text x="147.03" y="502.30" font-size="4.7" font-weight="bold" text-anchor="middle" fill="#000" stroke="#000" stroke-width="0.12">0.25</text>
<path d="M146.43 496.30v-1.5M146.43 387.25v1.5" stroke="#5a5a5a" stroke-width="0.5"/>
<text x="170.20" y="502.30" font-size="4.7" font-weight="bold" text-anchor="middle" fill="#000" stroke="#000" stroke-width="0.12">0.26</text>
<text x="100.20" y="512.30" font-size="6.7" font-weight="bold" text-anchor="middle" fill="#000" stroke="#000" stroke-width="0.16">Time(s)</text>
<text x="14.30" y="438.60" font-size="6.9" font-weight="bold" text-anchor="middle" stroke="#000" stroke-width="0.16" transform="rotate(-90 14.30 438.60)">V<tspan font-size="4.7" dy="1">S</tspan><tspan dy="-1">(V)</tspan></text>
<path d="M209.00 249.80V349.60M389.50 249.80V349.60" stroke="#909090" stroke-width="1.2" fill="none"/>
<path d="M208.40 249.80H390.10" stroke="#8c8c8c" stroke-width="1.1" fill="none"/>
<path d="M208.40 349.60H390.10" stroke="#6a6a6a" stroke-width="1.1" fill="none"/>
<rect x="234.86" y="249.80" width="3.5" height="99.80" fill="#0b6bc6" stroke="#24557f" stroke-width="0.55"/>
<rect x="273.08" y="259.24" width="3.5" height="90.36" fill="#0b6bc6" stroke="#24557f" stroke-width="0.55"/>
<rect x="311.31" y="304.42" width="3.5" height="45.18" fill="#0b6bc6" stroke="#24557f" stroke-width="0.55"/>
<rect x="349.53" y="327.01" width="3.5" height="22.59" fill="#0b6bc6" stroke="#24557f" stroke-width="0.55"/>
<path d="M209.00 349.60h1.5M389.50 349.60h-1.5" stroke="#6a6a6a" stroke-width="0.5"/>
<text x="208.90" y="351.60" font-size="4.7" font-weight="bold" text-anchor="end" fill="#000" stroke="#000" stroke-width="0.12">0</text>
<path d="M209.00 340.38h1.5M389.50 340.38h-1.5" stroke="#6a6a6a" stroke-width="0.5"/>
<text x="208.90" y="342.38" font-size="4.7" font-weight="bold" text-anchor="end" fill="#000" stroke="#000" stroke-width="0.12">2</text>
<path d="M209.00 331.16h1.5M389.50 331.16h-1.5" stroke="#6a6a6a" stroke-width="0.5"/>
<text x="208.90" y="333.16" font-size="4.7" font-weight="bold" text-anchor="end" fill="#000" stroke="#000" stroke-width="0.12">4</text>
<path d="M209.00 321.94h1.5M389.50 321.94h-1.5" stroke="#6a6a6a" stroke-width="0.5"/>
<text x="208.90" y="323.94" font-size="4.7" font-weight="bold" text-anchor="end" fill="#000" stroke="#000" stroke-width="0.12">6</text>
<path d="M209.00 312.72h1.5M389.50 312.72h-1.5" stroke="#6a6a6a" stroke-width="0.5"/>
<text x="208.90" y="314.72" font-size="4.7" font-weight="bold" text-anchor="end" fill="#000" stroke="#000" stroke-width="0.12">8</text>
<path d="M209.00 303.50h1.5M389.50 303.50h-1.5" stroke="#6a6a6a" stroke-width="0.5"/>
<text x="208.90" y="305.50" font-size="4.7" font-weight="bold" text-anchor="end" fill="#000" stroke="#000" stroke-width="0.12">10</text>
<path d="M209.00 294.28h1.5M389.50 294.28h-1.5" stroke="#6a6a6a" stroke-width="0.5"/>
<text x="208.90" y="296.28" font-size="4.7" font-weight="bold" text-anchor="end" fill="#000" stroke="#000" stroke-width="0.12">12</text>
<path d="M209.00 285.06h1.5M389.50 285.06h-1.5" stroke="#6a6a6a" stroke-width="0.5"/>
<text x="208.90" y="287.06" font-size="4.7" font-weight="bold" text-anchor="end" fill="#000" stroke="#000" stroke-width="0.12">14</text>
<path d="M209.00 275.84h1.5M389.50 275.84h-1.5" stroke="#6a6a6a" stroke-width="0.5"/>
<text x="208.90" y="277.84" font-size="4.7" font-weight="bold" text-anchor="end" fill="#000" stroke="#000" stroke-width="0.12">16</text>
<path d="M209.00 266.62h1.5M389.50 266.62h-1.5" stroke="#6a6a6a" stroke-width="0.5"/>
<text x="208.90" y="268.62" font-size="4.7" font-weight="bold" text-anchor="end" fill="#000" stroke="#000" stroke-width="0.12">18</text>
<path d="M209.00 257.40h1.5M389.50 257.40h-1.5" stroke="#6a6a6a" stroke-width="0.5"/>
<text x="208.90" y="259.40" font-size="4.7" font-weight="bold" text-anchor="end" fill="#000" stroke="#000" stroke-width="0.12">20</text>
<path d="M217.50 349.60v-1.5M217.50 249.80v1.5" stroke="#6a6a6a" stroke-width="0.5"/>
<text x="219.50" y="356.30" font-size="4.7" font-weight="bold" text-anchor="middle" fill="#000" stroke="#000" stroke-width="0.12">0</text>
<path d="M236.61 349.60v-1.5M236.61 249.80v1.5" stroke="#6a6a6a" stroke-width="0.5"/>
<text x="238.61" y="356.30" font-size="4.7" font-weight="bold" text-anchor="middle" fill="#000" stroke="#000" stroke-width="0.12">50</text>
<path d="M255.72 349.60v-1.5M255.72 249.80v1.5" stroke="#6a6a6a" stroke-width="0.5"/>
<text x="257.72" y="356.30" font-size="4.7" font-weight="bold" text-anchor="middle" fill="#000" stroke="#000" stroke-width="0.12">100</text>
<path d="M274.83 349.60v-1.5M274.83 249.80v1.5" stroke="#6a6a6a" stroke-width="0.5"/>
<text x="276.83" y="356.30" font-size="4.7" font-weight="bold" text-anchor="middle" fill="#000" stroke="#000" stroke-width="0.12">150</text>
<path d="M293.94 349.60v-1.5M293.94 249.80v1.5" stroke="#6a6a6a" stroke-width="0.5"/>
<text x="295.94" y="356.30" font-size="4.7" font-weight="bold" text-anchor="middle" fill="#000" stroke="#000" stroke-width="0.12">200</text>
<path d="M313.06 349.60v-1.5M313.06 249.80v1.5" stroke="#6a6a6a" stroke-width="0.5"/>
<text x="315.06" y="356.30" font-size="4.7" font-weight="bold" text-anchor="middle" fill="#000" stroke="#000" stroke-width="0.12">250</text>
<path d="M332.17 349.60v-1.5M332.17 249.80v1.5" stroke="#6a6a6a" stroke-width="0.5"/>
<text x="334.17" y="356.30" font-size="4.7" font-weight="bold" text-anchor="middle" fill="#000" stroke="#000" stroke-width="0.12">300</text>
<path d="M351.28 349.60v-1.5M351.28 249.80v1.5" stroke="#6a6a6a" stroke-width="0.5"/>
<text x="353.28" y="356.30" font-size="4.7" font-weight="bold" text-anchor="middle" fill="#000" stroke="#000" stroke-width="0.12">350</text>
<path d="M370.39 349.60v-1.5M370.39 249.80v1.5" stroke="#6a6a6a" stroke-width="0.5"/>
<text x="372.39" y="356.30" font-size="4.7" font-weight="bold" text-anchor="middle" fill="#000" stroke="#000" stroke-width="0.12">400</text>
<text x="391.50" y="356.30" font-size="4.7" font-weight="bold" text-anchor="middle" fill="#000" stroke="#000" stroke-width="0.12">450</text>
<text x="248.70" y="248.30" font-size="6.78" fill="#111">Fundamental (50Hz) = 144.2 , THD= 22.46%</text>
<text x="296.70" y="363.10" font-size="6.8" font-weight="bold" text-anchor="middle" fill="#000" stroke="#000" stroke-width="0.16">Frequency (Hz)</text>
<text x="202.20" y="306.40" font-size="5.1" font-weight="bold" text-anchor="middle" fill="#000" transform="rotate(-90 202.20 306.40)" stroke="#000" stroke-width="0.12">Mag(% of Fundamental)</text>
<path d="M211.50 386.30V499.25M394.45 386.30V499.25" stroke="#5a5a5a" stroke-width="0.9" fill="none"/>
<path d="M211.05 386.30H394.90" stroke="#5a5a5a" stroke-width="0.9" fill="none"/>
<path d="M211.05 499.25H394.90" stroke="#5a5a5a" stroke-width="0.9" fill="none"/>
<rect x="238.08" y="386.30" width="3.5" height="112.95" fill="#0b6bc6" stroke="#24557f" stroke-width="0.55"/>
<rect x="276.73" y="396.17" width="3.5" height="103.08" fill="#0b6bc6" stroke="#24557f" stroke-width="0.55"/>
<rect x="315.39" y="397.79" width="3.5" height="101.46" fill="#0b6bc6" stroke="#24557f" stroke-width="0.55"/>
<rect x="354.04" y="430.30" width="3.5" height="68.95" fill="#0b6bc6" stroke="#24557f" stroke-width="0.55"/>
<rect x="231.69" y="498.35" width="3.4" height="0.90" fill="#1d3a63"/>
<rect x="244.57" y="498.35" width="3.4" height="0.90" fill="#1d3a63"/>
<rect x="251.01" y="498.40" width="3.4" height="0.85" fill="#1d3a63"/>
<rect x="257.46" y="498.45" width="3.4" height="0.80" fill="#1d3a63"/>
<rect x="263.90" y="498.45" width="3.4" height="0.80" fill="#1d3a63"/>
<rect x="270.34" y="498.80" width="3.4" height="0.45" fill="#1d3a63"/>
<rect x="283.23" y="498.75" width="3.4" height="0.50" fill="#1d3a63"/>
<rect x="289.67" y="498.80" width="3.4" height="0.45" fill="#1d3a63"/>
<rect x="296.11" y="498.75" width="3.4" height="0.50" fill="#1d3a63"/>
<rect x="302.55" y="498.55" width="3.4" height="0.70" fill="#1d3a63"/>
<rect x="309.00" y="498.75" width="3.4" height="0.50" fill="#1d3a63"/>
<rect x="321.88" y="498.25" width="3.4" height="1.00" fill="#1d3a63"/>
<rect x="328.32" y="498.90" width="3.4" height="0.35" fill="#1d3a63"/>
<rect x="334.77" y="498.85" width="3.4" height="0.40" fill="#1d3a63"/>
<rect x="341.21" y="498.35" width="3.4" height="0.90" fill="#1d3a63"/>
<rect x="347.65" y="498.65" width="3.4" height="0.60" fill="#1d3a63"/>
<rect x="360.54" y="498.30" width="3.4" height="0.95" fill="#1d3a63"/>
<rect x="366.98" y="498.30" width="3.4" height="0.95" fill="#1d3a63"/>
<rect x="373.42" y="498.30" width="3.4" height="0.95" fill="#1d3a63"/>
<rect x="379.86" y="498.65" width="3.4" height="0.60" fill="#1d3a63"/>
<rect x="386.31" y="498.90" width="3.4" height="0.35" fill="#1d3a63"/>
<path d="M211.50 499.25h1.5M394.45 499.25h-1.5" stroke="#6a6a6a" stroke-width="0.5"/>
<text x="210.00" y="501.25" font-size="4.7" font-weight="bold" text-anchor="end" fill="#000" stroke="#000" stroke-width="0.12">0.0</text>
<path d="M211.50 487.72h1.5M394.45 487.72h-1.5" stroke="#6a6a6a" stroke-width="0.5"/>
<text x="210.00" y="489.72" font-size="4.7" font-weight="bold" text-anchor="end" fill="#000" stroke="#000" stroke-width="0.12">0.1</text>
<path d="M211.50 476.19h1.5M394.45 476.19h-1.5" stroke="#6a6a6a" stroke-width="0.5"/>
<text x="210.00" y="478.19" font-size="4.7" font-weight="bold" text-anchor="end" fill="#000" stroke="#000" stroke-width="0.12">0.2</text>
<path d="M211.50 464.66h1.5M394.45 464.66h-1.5" stroke="#6a6a6a" stroke-width="0.5"/>
<text x="210.00" y="466.66" font-size="4.7" font-weight="bold" text-anchor="end" fill="#000" stroke="#000" stroke-width="0.12">0.3</text>
<path d="M211.50 453.13h1.5M394.45 453.13h-1.5" stroke="#6a6a6a" stroke-width="0.5"/>
<text x="210.00" y="455.13" font-size="4.7" font-weight="bold" text-anchor="end" fill="#000" stroke="#000" stroke-width="0.12">0.4</text>
<path d="M211.50 441.60h1.5M394.45 441.60h-1.5" stroke="#6a6a6a" stroke-width="0.5"/>
<text x="210.00" y="443.60" font-size="4.7" font-weight="bold" text-anchor="end" fill="#000" stroke="#000" stroke-width="0.12">0.5</text>
<path d="M211.50 430.07h1.5M394.45 430.07h-1.5" stroke="#6a6a6a" stroke-width="0.5"/>
<text x="210.00" y="432.07" font-size="4.7" font-weight="bold" text-anchor="end" fill="#000" stroke="#000" stroke-width="0.12">0.6</text>
<path d="M211.50 418.54h1.5M394.45 418.54h-1.5" stroke="#6a6a6a" stroke-width="0.5"/>
<text x="210.00" y="420.54" font-size="4.7" font-weight="bold" text-anchor="end" fill="#000" stroke="#000" stroke-width="0.12">0.7</text>
<path d="M211.50 407.01h1.5M394.45 407.01h-1.5" stroke="#6a6a6a" stroke-width="0.5"/>
<text x="210.00" y="409.01" font-size="4.7" font-weight="bold" text-anchor="end" fill="#000" stroke="#000" stroke-width="0.12">0.8</text>
<path d="M211.50 395.48h1.5M394.45 395.48h-1.5" stroke="#6a6a6a" stroke-width="0.5"/>
<text x="210.00" y="397.48" font-size="4.7" font-weight="bold" text-anchor="end" fill="#000" stroke="#000" stroke-width="0.12">0.9</text>
<path d="M220.50 499.25v-1.5M220.50 386.30v1.5" stroke="#6a6a6a" stroke-width="0.5"/>
<text x="221.60" y="505.90" font-size="4.7" font-weight="bold" text-anchor="middle" fill="#000" stroke="#000" stroke-width="0.12">0</text>
<path d="M239.83 499.25v-1.5M239.83 386.30v1.5" stroke="#6a6a6a" stroke-width="0.5"/>
<text x="240.93" y="505.90" font-size="4.7" font-weight="bold" text-anchor="middle" fill="#000" stroke="#000" stroke-width="0.12">50</text>
<path d="M259.16 499.25v-1.5M259.16 386.30v1.5" stroke="#6a6a6a" stroke-width="0.5"/>
<text x="260.26" y="505.90" font-size="4.7" font-weight="bold" text-anchor="middle" fill="#000" stroke="#000" stroke-width="0.12">100</text>
<path d="M278.48 499.25v-1.5M278.48 386.30v1.5" stroke="#6a6a6a" stroke-width="0.5"/>
<text x="279.58" y="505.90" font-size="4.7" font-weight="bold" text-anchor="middle" fill="#000" stroke="#000" stroke-width="0.12">150</text>
<path d="M297.81 499.25v-1.5M297.81 386.30v1.5" stroke="#6a6a6a" stroke-width="0.5"/>
<text x="298.91" y="505.90" font-size="4.7" font-weight="bold" text-anchor="middle" fill="#000" stroke="#000" stroke-width="0.12">200</text>
<path d="M317.14 499.25v-1.5M317.14 386.30v1.5" stroke="#6a6a6a" stroke-width="0.5"/>
<text x="318.24" y="505.90" font-size="4.7" font-weight="bold" text-anchor="middle" fill="#000" stroke="#000" stroke-width="0.12">250</text>
<path d="M336.47 499.25v-1.5M336.47 386.30v1.5" stroke="#6a6a6a" stroke-width="0.5"/>
<text x="337.57" y="505.90" font-size="4.7" font-weight="bold" text-anchor="middle" fill="#000" stroke="#000" stroke-width="0.12">300</text>
<path d="M355.79 499.25v-1.5M355.79 386.30v1.5" stroke="#6a6a6a" stroke-width="0.5"/>
<text x="356.89" y="505.90" font-size="4.7" font-weight="bold" text-anchor="middle" fill="#000" stroke="#000" stroke-width="0.12">350</text>
<path d="M375.12 499.25v-1.5M375.12 386.30v1.5" stroke="#6a6a6a" stroke-width="0.5"/>
<text x="376.22" y="505.90" font-size="4.7" font-weight="bold" text-anchor="middle" fill="#000" stroke="#000" stroke-width="0.12">400</text>
<text x="395.55" y="505.90" font-size="4.7" font-weight="bold" text-anchor="middle" fill="#000" stroke="#000" stroke-width="0.12">450</text>
<text x="253.60" y="384.50" font-size="6.75" fill="#111">Fundamental (50Hz) = 155.4 , THD= 1.54%</text>
<text x="298.40" y="514.50" font-size="6.8" font-weight="bold" text-anchor="middle" fill="#000" stroke="#000" stroke-width="0.16">Frequency (Hz)</text>
<text x="200.40" y="440.20" font-size="5.2" font-weight="bold" text-anchor="middle" fill="#000" transform="rotate(-90 200.40 440.20)" stroke="#000" stroke-width="0.12">Mag(% of Fundamental)</text>
</svg>
</body></html>
